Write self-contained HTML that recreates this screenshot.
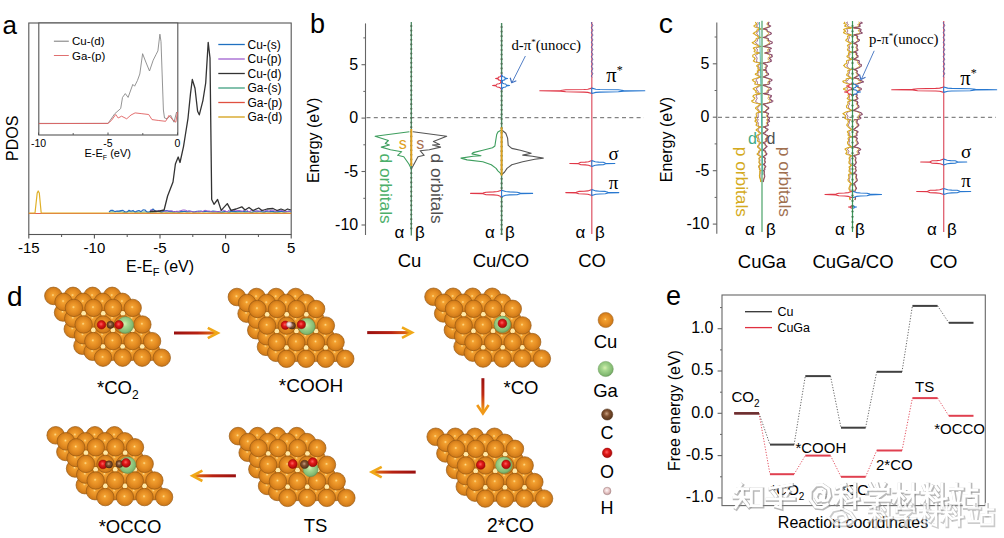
<!DOCTYPE html>
<html><head><meta charset="utf-8"><style>
html,body{margin:0;padding:0;background:#fff;}
svg{display:block;}
</style></head><body>
<svg width="1004" height="538" viewBox="0 0 1004 538">
<defs>
<radialGradient id="cu" cx="0.5" cy="0.5" r="0.55" fx="0.47" fy="0.45">
<stop offset="0" stop-color="#FFE090"/><stop offset="0.16" stop-color="#F2A030"/><stop offset="0.55" stop-color="#E48C22"/><stop offset="0.88" stop-color="#CC7818"/><stop offset="1" stop-color="#A86212"/></radialGradient>
<radialGradient id="ga" cx="0.45" cy="0.42" r="0.62">
<stop offset="0" stop-color="#D8F0B0"/><stop offset="0.3" stop-color="#A8D890"/><stop offset="0.8" stop-color="#80B870"/><stop offset="1" stop-color="#608850"/></radialGradient>
<radialGradient id="ox" cx="0.45" cy="0.42" r="0.62">
<stop offset="0" stop-color="#FF6060"/><stop offset="0.4" stop-color="#E01818"/><stop offset="1" stop-color="#A00808"/></radialGradient>
<radialGradient id="cc" cx="0.45" cy="0.42" r="0.62">
<stop offset="0" stop-color="#C8A080"/><stop offset="0.4" stop-color="#805030"/><stop offset="1" stop-color="#503018"/></radialGradient>
<radialGradient id="hh" cx="0.45" cy="0.42" r="0.62">
<stop offset="0" stop-color="#FFF8F8"/><stop offset="0.5" stop-color="#E8C8C8"/><stop offset="1" stop-color="#B89090"/></radialGradient>
<linearGradient id="arR" x1="0" y1="0" x2="1" y2="0"><stop offset="0" stop-color="#9A1010"/><stop offset="0.55" stop-color="#B82212"/><stop offset="0.85" stop-color="#D85A12"/><stop offset="1" stop-color="#F0A018"/></linearGradient>
<linearGradient id="arL" x1="1" y1="0" x2="0" y2="0"><stop offset="0" stop-color="#9A1010"/><stop offset="0.55" stop-color="#B82212"/><stop offset="0.85" stop-color="#D85A12"/><stop offset="1" stop-color="#F0A018"/></linearGradient>
<linearGradient id="arD" x1="0" y1="0" x2="0" y2="1"><stop offset="0" stop-color="#9A1010"/><stop offset="0.5" stop-color="#C02A12"/><stop offset="0.78" stop-color="#E06A14"/><stop offset="1" stop-color="#F0A818"/></linearGradient>
</defs>
<rect width="1004" height="538" fill="#fff"/>
<text x="2.5" y="34.2" font-family="Liberation Sans" font-size="26" fill="#000" text-anchor="start" >a</text>
<text x="310.0" y="33.0" font-family="Liberation Sans" font-size="27" fill="#000" text-anchor="start" >b</text>
<text x="658.8" y="33.0" font-family="Liberation Sans" font-size="28.5" fill="#000" text-anchor="start" >c</text>
<text x="7.0" y="305.5" font-family="Liberation Sans" font-size="28" fill="#000" text-anchor="start" >d</text>
<text x="666.0" y="304.8" font-family="Liberation Sans" font-size="27" fill="#000" text-anchor="start" >e</text>
<rect x="28.8" y="23" width="262.4" height="211.5" fill="none" stroke="#555" stroke-width="1.1"/>
<line x1="28.8" y1="234.5" x2="28.8" y2="238.5" stroke="#555" stroke-width="1.1" />
<text x="28.8" y="253.0" font-family="Liberation Sans" font-size="15" fill="#000" text-anchor="middle" >-15</text>
<line x1="94.4" y1="234.5" x2="94.4" y2="238.5" stroke="#555" stroke-width="1.1" />
<text x="94.4" y="253.0" font-family="Liberation Sans" font-size="15" fill="#000" text-anchor="middle" >-10</text>
<line x1="160.0" y1="234.5" x2="160.0" y2="238.5" stroke="#555" stroke-width="1.1" />
<text x="160.0" y="253.0" font-family="Liberation Sans" font-size="15" fill="#000" text-anchor="middle" >-5</text>
<line x1="225.6" y1="234.5" x2="225.6" y2="238.5" stroke="#555" stroke-width="1.1" />
<text x="225.6" y="253.0" font-family="Liberation Sans" font-size="15" fill="#000" text-anchor="middle" >0</text>
<line x1="291.2" y1="234.5" x2="291.2" y2="238.5" stroke="#555" stroke-width="1.1" />
<text x="291.2" y="253.0" font-family="Liberation Sans" font-size="15" fill="#000" text-anchor="middle" >5</text>
<line x1="61.6" y1="234.5" x2="61.6" y2="237.0" stroke="#555" stroke-width="1" />
<line x1="127.2" y1="234.5" x2="127.2" y2="237.0" stroke="#555" stroke-width="1" />
<line x1="192.8" y1="234.5" x2="192.8" y2="237.0" stroke="#555" stroke-width="1" />
<line x1="258.4" y1="234.5" x2="258.4" y2="237.0" stroke="#555" stroke-width="1" />
<text x="126.0" y="272.0" font-family="Liberation Sans" font-size="16" fill="#000" text-anchor="start" >E-E<tspan font-size="11" dy="4">F</tspan><tspan dy="-4"> (eV)</tspan></text>
<text x="18.0" y="161.0" font-family="Liberation Sans" font-size="16" fill="#000" text-anchor="start" transform="rotate(-90 18 161)">PDOS</text>
<polyline points="28.8,213.5 291.2,213.5" fill="none" stroke="#E05040" stroke-width="0.9" stroke-linejoin="round" />
<polyline points="109.0,211.9 111.5,211.8 114.0,211.8 116.5,211.6 119.0,211.8 121.5,211.7 124.0,212.4 126.5,212.0 129.0,211.6 131.5,211.9 134.0,211.7 136.5,212.3 139.0,212.0 141.5,212.2 144.0,212.0 146.5,211.9 149.0,212.4 151.5,212.2 154.0,212.2 156.5,211.7 159.0,211.8 161.5,212.3 164.0,211.8 166.5,212.3 169.0,211.9 171.5,212.3 174.0,212.4 176.5,211.7 179.0,212.2 181.5,212.2 184.0,211.6 186.5,211.7 189.0,212.2 191.5,211.6 194.0,212.0 196.5,211.9 199.0,212.2 201.5,211.6 204.0,211.8 206.5,211.6 209.0,211.7 211.5,212.2 214.0,212.1 216.5,212.3 219.0,212.3 221.5,212.3 224.0,212.2 226.5,211.9 229.0,212.4 231.5,211.9 234.0,212.1 236.5,212.2 239.0,211.7 241.5,212.0 244.0,212.1 246.5,212.0 249.0,211.8 251.5,212.4 254.0,211.6 256.5,212.4 259.0,211.8 261.5,211.7 264.0,212.4 266.5,211.8 269.0,212.1 271.5,211.9 274.0,212.4 276.5,212.4 279.0,212.3 281.5,211.6 284.0,212.2 286.5,211.8 289.0,211.7" fill="none" stroke="#40A080" stroke-width="0.9" stroke-linejoin="round" />
<polyline points="109.0,211.9 111.0,210.2 113.0,210.4 115.0,211.6 117.0,211.0 119.0,211.1 121.0,210.6 123.0,210.3 125.0,212.0 127.0,212.1 129.0,210.2 131.0,211.2 133.0,210.4 135.0,212.2 137.0,211.1 139.0,210.5 141.0,211.7 143.0,209.9 145.0,210.0 147.0,212.1 149.0,212.1 151.0,210.4 153.0,209.0 155.0,210.9 157.0,211.5 159.0,210.8 161.0,212.1 163.0,211.5 165.0,210.7 167.0,210.5 169.0,211.4 171.0,211.4 173.0,211.5 175.0,211.6 177.0,211.9 179.0,212.2 181.0,211.2 183.0,211.5 185.0,211.4 187.0,212.0 189.0,211.0 191.0,211.2 193.0,212.1 195.0,211.8 197.0,211.3 199.0,211.3 201.0,211.1 203.0,211.7 205.0,211.2 207.0,211.4 209.0,211.8 211.0,211.5 213.0,211.1 215.0,211.2 217.0,211.6 219.0,211.5 221.0,212.2 223.0,211.9 225.0,211.2 227.0,211.7 229.0,212.0 231.0,211.5 233.0,211.4 235.0,211.4 237.0,211.8 239.0,211.7 241.0,211.6 243.0,211.3 245.0,211.6 247.0,211.7 249.0,211.6 251.0,212.2 253.0,212.1 255.0,211.4 257.0,211.0 259.0,211.5 261.0,211.7 263.0,212.0 265.0,211.6 267.0,211.0 269.0,211.3 271.0,211.6 273.0,211.2 275.0,211.9 277.0,211.6 279.0,211.1 281.0,211.5 283.0,211.6 285.0,211.9 287.0,211.5 289.0,211.1 291.0,212.2" fill="none" stroke="#2A6BC0" stroke-width="1.1" stroke-linejoin="round" />
<polyline points="150.0,210.1 152.2,210.1 154.4,212.1 156.6,212.0 158.8,210.4 161.0,210.6 163.2,210.7 165.4,211.5 167.6,210.9 169.8,210.9 172.0,210.9 174.2,211.9 176.4,211.3 178.6,211.3 180.8,210.6 183.0,210.0 185.2,210.1 187.4,211.0 189.6,211.2 191.8,211.6 194.0,212.1 196.2,212.1 198.4,211.2 200.6,211.5 202.8,211.4 205.0,210.2 207.2,211.0 209.4,211.0 211.6,211.7 213.8,212.1 216.0,211.5 218.2,211.9 220.4,211.1 222.6,210.0 224.8,210.7 227.0,211.8 229.2,210.2 231.4,210.4 233.6,210.6 235.8,210.2 238.0,210.5 240.2,210.5 242.4,211.4 244.6,210.0 246.8,210.1 249.0,211.8 251.2,210.5 253.4,210.6 255.6,211.2 257.8,211.0 260.0,211.1 262.2,210.2 264.4,211.1 266.6,210.4 268.8,211.4 271.0,210.3 273.2,210.2 275.4,211.2 277.6,211.0 279.8,210.2 282.0,210.6 284.2,211.1 286.4,211.7 288.6,211.5 290.8,210.7" fill="none" stroke="#A060D0" stroke-width="1.0" stroke-linejoin="round" />
<polyline points="28.8,213.0 35.0,213.0 37.2,193.0 38.2,191.0 39.3,193.0 41.2,213.0 291.2,213.0" fill="none" stroke="#E0B028" stroke-width="1.2" stroke-linejoin="round" />
<polyline points="150.0,211.5 160.0,211.0 164.1,210.0 167.6,196.0 173.0,182.0 175.4,164.0 178.2,157.0 180.0,162.5 183.5,146.6 185.2,136.0 188.0,118.3 190.5,93.6 192.3,79.5 195.0,88.3 197.6,111.2 199.3,114.8 202.9,100.6 205.7,83.0 208.2,42.4 210.0,58.0 211.7,199.5 214.0,204.3 217.6,199.5 221.2,210.4 227.3,203.6 231.0,210.4 236.0,209.0 241.8,206.8 245.0,210.0 249.0,207.5 253.0,210.5 258.7,208.0 262.0,210.5 267.0,209.0 273.0,208.5 277.0,210.5 281.0,209.0 285.0,210.5 287.6,209.0 291.0,210.0" fill="none" stroke="#333" stroke-width="1.3" stroke-linejoin="round" />
<line x1="218.3" y1="44.5" x2="244.8" y2="44.5" stroke="#2070C0" stroke-width="1.3" />
<text x="247.5" y="48.8" font-family="Liberation Sans" font-size="12" fill="#000" text-anchor="start" >Cu-(s)</text>
<line x1="218.3" y1="59.0" x2="244.8" y2="59.0" stroke="#A060D0" stroke-width="1.3" />
<text x="247.5" y="63.3" font-family="Liberation Sans" font-size="12" fill="#000" text-anchor="start" >Cu-(p)</text>
<line x1="218.3" y1="73.5" x2="244.8" y2="73.5" stroke="#333" stroke-width="1.3" />
<text x="247.5" y="77.8" font-family="Liberation Sans" font-size="12" fill="#000" text-anchor="start" >Cu-(d)</text>
<line x1="218.3" y1="88.0" x2="244.8" y2="88.0" stroke="#40A080" stroke-width="1.3" />
<text x="247.5" y="92.3" font-family="Liberation Sans" font-size="12" fill="#000" text-anchor="start" >Ga-(s)</text>
<line x1="218.3" y1="102.5" x2="244.8" y2="102.5" stroke="#E05040" stroke-width="1.3" />
<text x="247.5" y="106.8" font-family="Liberation Sans" font-size="12" fill="#000" text-anchor="start" >Ga-(p)</text>
<line x1="218.3" y1="117.0" x2="244.8" y2="117.0" stroke="#D4A017" stroke-width="1.3" />
<text x="247.5" y="121.3" font-family="Liberation Sans" font-size="12" fill="#000" text-anchor="start" >Ga-(d)</text>
<rect x="38.8" y="23" width="139.0" height="112" fill="#fff" stroke="#555" stroke-width="1.1"/>
<line x1="38.5" y1="135.0" x2="38.5" y2="132.5" stroke="#555" stroke-width="1" />
<text x="38.5" y="147.0" font-family="Liberation Sans" font-size="10.5" fill="#000" text-anchor="middle" >-10</text>
<line x1="108.0" y1="135.0" x2="108.0" y2="132.5" stroke="#555" stroke-width="1" />
<text x="108.0" y="147.0" font-family="Liberation Sans" font-size="10.5" fill="#000" text-anchor="middle" >-5</text>
<line x1="177.5" y1="135.0" x2="177.5" y2="132.5" stroke="#555" stroke-width="1" />
<text x="177.5" y="147.0" font-family="Liberation Sans" font-size="10.5" fill="#000" text-anchor="middle" >0</text>
<line x1="73.2" y1="135.0" x2="73.2" y2="133.0" stroke="#555" stroke-width="0.9" />
<line x1="142.8" y1="135.0" x2="142.8" y2="133.0" stroke="#555" stroke-width="0.9" />
<text x="84.5" y="156.5" font-family="Liberation Sans" font-size="11" fill="#000" text-anchor="start" >E-E<tspan font-size="7" dy="3">F</tspan><tspan dy="-3"> (eV)</tspan></text>
<line x1="53.9" y1="41.2" x2="68.8" y2="41.2" stroke="#777" stroke-width="1" />
<line x1="53.9" y1="55.5" x2="68.8" y2="55.5" stroke="#E07070" stroke-width="1" />
<text x="72.0" y="45.3" font-family="Liberation Sans" font-size="11.5" fill="#000" text-anchor="start" >Cu-(d)</text>
<text x="72.0" y="59.6" font-family="Liberation Sans" font-size="11.5" fill="#000" text-anchor="start" >Ga-(p)</text>
<polyline points="38.8,123.4 108.0,123.4 114.8,113.7 120.7,108.5 122.5,97.4 125.3,93.6 128.1,97.4 132.8,84.4 134.6,86.2 137.4,80.6 139.8,74.0 142.6,53.7 145.8,62.0 149.5,71.0 153.2,60.2 156.0,54.6 157.9,50.9 159.9,34.2 161.0,41.6 163.4,110.0 164.5,118.0 167.3,118.8 170.7,115.4 174.0,122.2 176.6,112.0 177.5,113.0" fill="none" stroke="#888" stroke-width="0.9" stroke-linejoin="round" />
<polyline points="38.8,123.6 108.0,123.4 111.4,120.5 115.7,114.5 118.2,118.0 121.6,116.2 126.7,118.8 131.0,115.0 135.1,112.9 141.9,113.7 148.7,114.5 152.0,119.6 158.8,120.5 165.6,121.3 169.0,115.4 172.4,119.6 175.8,122.2 177.5,112.0" fill="none" stroke="#E06060" stroke-width="0.9" stroke-linejoin="round" />
<line x1="365.5" y1="23.4" x2="365.5" y2="235.0" stroke="#666" stroke-width="1.1" />
<line x1="361.5" y1="64.7" x2="365.5" y2="64.7" stroke="#666" stroke-width="1.1" />
<text x="358.2" y="69.9" font-family="Liberation Sans" font-size="16" fill="#000" text-anchor="end" >5</text>
<line x1="361.5" y1="118.1" x2="365.5" y2="118.1" stroke="#666" stroke-width="1.1" />
<text x="358.2" y="123.3" font-family="Liberation Sans" font-size="16" fill="#000" text-anchor="end" >0</text>
<line x1="361.5" y1="171.5" x2="365.5" y2="171.5" stroke="#666" stroke-width="1.1" />
<text x="358.2" y="176.7" font-family="Liberation Sans" font-size="16" fill="#000" text-anchor="end" >-5</text>
<line x1="361.5" y1="225.0" x2="365.5" y2="225.0" stroke="#666" stroke-width="1.1" />
<text x="358.2" y="230.2" font-family="Liberation Sans" font-size="16" fill="#000" text-anchor="end" >-10</text>
<line x1="363.3" y1="37.9" x2="365.5" y2="37.9" stroke="#666" stroke-width="1" />
<line x1="363.3" y1="91.4" x2="365.5" y2="91.4" stroke="#666" stroke-width="1" />
<line x1="363.3" y1="144.8" x2="365.5" y2="144.8" stroke="#666" stroke-width="1" />
<line x1="363.3" y1="198.3" x2="365.5" y2="198.3" stroke="#666" stroke-width="1" />
<text x="319.5" y="183.1" font-family="Liberation Sans" font-size="16" transform="rotate(-90 319.5 183.1)">Energy (eV)</text>
<line x1="716.8" y1="22.5" x2="716.8" y2="233.7" stroke="#666" stroke-width="1.1" />
<line x1="712.8" y1="63.8" x2="716.8" y2="63.8" stroke="#666" stroke-width="1.1" />
<text x="709.5" y="69.0" font-family="Liberation Sans" font-size="16" fill="#000" text-anchor="end" >5</text>
<line x1="712.8" y1="117.2" x2="716.8" y2="117.2" stroke="#666" stroke-width="1.1" />
<text x="709.5" y="122.4" font-family="Liberation Sans" font-size="16" fill="#000" text-anchor="end" >0</text>
<line x1="712.8" y1="170.7" x2="716.8" y2="170.7" stroke="#666" stroke-width="1.1" />
<text x="709.5" y="175.8" font-family="Liberation Sans" font-size="16" fill="#000" text-anchor="end" >-5</text>
<line x1="712.8" y1="224.1" x2="716.8" y2="224.1" stroke="#666" stroke-width="1.1" />
<text x="709.5" y="229.3" font-family="Liberation Sans" font-size="16" fill="#000" text-anchor="end" >-10</text>
<line x1="714.6" y1="37.0" x2="716.8" y2="37.0" stroke="#666" stroke-width="1" />
<line x1="714.6" y1="90.5" x2="716.8" y2="90.5" stroke="#666" stroke-width="1" />
<line x1="714.6" y1="143.9" x2="716.8" y2="143.9" stroke="#666" stroke-width="1" />
<line x1="714.6" y1="197.4" x2="716.8" y2="197.4" stroke="#666" stroke-width="1" />
<text x="672" y="182.2" font-family="Liberation Sans" font-size="16" transform="rotate(-90 672 182.2)">Energy (eV)</text>
<line x1="366.5" y1="117.7" x2="644" y2="117.7" stroke="#666" stroke-width="1" stroke-dasharray="4,3.3"/>
<line x1="718" y1="117.3" x2="996" y2="117.3" stroke="#666" stroke-width="1" stroke-dasharray="4,3.3"/>
<polyline points="409.4,131.8 375.1,136.2 388.4,140.5 385.3,143.5 389.4,145.0 381.3,147.1 390.5,149.7 401.7,151.7 397.6,155.3 403.8,156.8 408.9,164.0 410.9,168.0" fill="none" stroke="#3E9E5E" stroke-width="1.1" stroke-linejoin="round" />
<polyline points="413.0,131.8 446.7,136.2 433.4,141.5 439.6,144.5 432.4,145.0 440.6,147.1 429.3,149.7 420.1,150.7 424.2,155.3 418.0,156.8 413.0,166.0 411.8,168.0" fill="none" stroke="#555" stroke-width="1.1" stroke-linejoin="round" />
<line x1="411.3" y1="22.0" x2="411.3" y2="235.5" stroke="#4A8A62" stroke-width="1.3" />
<circle cx="411.3" cy="26.0" r="1.1" fill="#4F6F55"/>
<circle cx="411.3" cy="30.6" r="1.1" fill="#4F6F55"/>
<circle cx="411.3" cy="35.2" r="1.1" fill="#4F6F55"/>
<circle cx="411.3" cy="39.8" r="1.1" fill="#4F6F55"/>
<circle cx="411.3" cy="44.4" r="1.1" fill="#4F6F55"/>
<circle cx="411.3" cy="49.0" r="1.1" fill="#4F6F55"/>
<circle cx="411.3" cy="53.6" r="1.1" fill="#4F6F55"/>
<circle cx="411.3" cy="58.2" r="1.1" fill="#4F6F55"/>
<circle cx="411.3" cy="62.8" r="1.1" fill="#4F6F55"/>
<circle cx="411.3" cy="67.4" r="1.1" fill="#4F6F55"/>
<circle cx="411.3" cy="72.0" r="1.1" fill="#4F6F55"/>
<circle cx="411.3" cy="76.6" r="1.1" fill="#4F6F55"/>
<circle cx="411.3" cy="81.2" r="1.1" fill="#4F6F55"/>
<circle cx="411.3" cy="85.8" r="1.1" fill="#4F6F55"/>
<circle cx="411.3" cy="90.4" r="1.1" fill="#4F6F55"/>
<circle cx="411.3" cy="95.0" r="1.1" fill="#4F6F55"/>
<circle cx="411.3" cy="99.6" r="1.1" fill="#4F6F55"/>
<circle cx="411.3" cy="104.2" r="1.1" fill="#4F6F55"/>
<circle cx="411.3" cy="108.8" r="1.1" fill="#4F6F55"/>
<circle cx="411.3" cy="113.4" r="1.1" fill="#4F6F55"/>
<circle cx="411.3" cy="118.0" r="1.1" fill="#4F6F55"/>
<circle cx="411.3" cy="122.6" r="1.1" fill="#4F6F55"/>
<circle cx="411.3" cy="127.2" r="1.1" fill="#4F6F55"/>
<circle cx="411.3" cy="131.8" r="1.1" fill="#4F6F55"/>
<circle cx="411.3" cy="136.4" r="1.1" fill="#4F6F55"/>
<circle cx="411.3" cy="141.0" r="1.1" fill="#4F6F55"/>
<circle cx="411.3" cy="145.6" r="1.1" fill="#4F6F55"/>
<circle cx="411.3" cy="150.2" r="1.1" fill="#4F6F55"/>
<circle cx="411.3" cy="154.8" r="1.1" fill="#4F6F55"/>
<circle cx="411.3" cy="159.4" r="1.1" fill="#4F6F55"/>
<circle cx="411.3" cy="164.0" r="1.1" fill="#4F6F55"/>
<circle cx="411.3" cy="168.6" r="1.1" fill="#4F6F55"/>
<circle cx="411.3" cy="173.2" r="1.1" fill="#4F6F55"/>
<circle cx="411.3" cy="177.8" r="1.1" fill="#4F6F55"/>
<circle cx="411.3" cy="182.4" r="1.1" fill="#4F6F55"/>
<circle cx="411.3" cy="187.0" r="1.1" fill="#4F6F55"/>
<circle cx="411.3" cy="191.6" r="1.1" fill="#4F6F55"/>
<circle cx="411.3" cy="196.2" r="1.1" fill="#4F6F55"/>
<circle cx="411.3" cy="200.8" r="1.1" fill="#4F6F55"/>
<circle cx="411.3" cy="205.4" r="1.1" fill="#4F6F55"/>
<circle cx="411.3" cy="210.0" r="1.1" fill="#4F6F55"/>
<circle cx="411.3" cy="214.6" r="1.1" fill="#4F6F55"/>
<circle cx="411.3" cy="219.2" r="1.1" fill="#4F6F55"/>
<circle cx="411.3" cy="223.8" r="1.1" fill="#4F6F55"/>
<circle cx="411.3" cy="228.4" r="1.1" fill="#4F6F55"/>
<line x1="411.3" y1="129.0" x2="411.3" y2="166.0" stroke="#E0A020" stroke-width="1.9" />
<text x="402.7" y="148.5" font-family="Liberation Sans" font-size="16" fill="#E0A020" text-anchor="middle" >s</text>
<text x="420.3" y="148.5" font-family="Liberation Sans" font-size="16" fill="#A87050" text-anchor="middle" >s</text>
<text x="380" y="153.5" font-family="Liberation Sans" font-size="17.3" fill="#4CAF6A" transform="rotate(90 380 153.5)">d orbitals</text>
<text x="431.3" y="153.5" font-family="Liberation Sans" font-size="17.3" fill="#505050" transform="rotate(90 431.3 153.5)">d orbitals</text>
<text x="399.5" y="238.0" font-family="Liberation Sans" font-size="17" fill="#000" text-anchor="middle" >α</text>
<text x="420.0" y="238.0" font-family="Liberation Sans" font-size="17" fill="#000" text-anchor="middle" >β</text>
<text x="409.5" y="267.0" font-family="Liberation Sans" font-size="18.5" fill="#000" text-anchor="middle" >Cu</text>
<polyline points="501.0,130.3 497.9,132.1 496.7,134.5 495.5,141.8 494.9,146.0 492.5,147.8 482.8,150.2 473.1,152.6 471.9,153.9 481.0,155.7 473.1,156.3 461.0,158.1 467.1,159.9 482.8,161.7 491.3,164.7 496.1,168.4 497.9,170.8 500.3,173.2 501.5,174.5" fill="none" stroke="#3E9E5E" stroke-width="1.1" stroke-linejoin="round" />
<polyline points="502.1,130.3 505.8,133.3 507.6,138.1 508.2,145.4 511.8,148.4 520.3,150.2 531.2,153.2 522.7,155.1 532.4,156.3 543.3,158.1 534.8,159.3 522.7,161.7 511.8,164.7 507.0,168.4 504.6,172.0 502.1,174.4" fill="none" stroke="#555" stroke-width="1.1" stroke-linejoin="round" />
<line x1="501.6" y1="23.0" x2="501.6" y2="235.0" stroke="#4A8A62" stroke-width="1.4" />
<circle cx="501.6" cy="27.0" r="1.1" fill="#4F6F55"/>
<circle cx="501.6" cy="31.6" r="1.1" fill="#4F6F55"/>
<circle cx="501.6" cy="36.2" r="1.1" fill="#4F6F55"/>
<circle cx="501.6" cy="40.8" r="1.1" fill="#4F6F55"/>
<circle cx="501.6" cy="45.4" r="1.1" fill="#4F6F55"/>
<circle cx="501.6" cy="50.0" r="1.1" fill="#4F6F55"/>
<circle cx="501.6" cy="54.6" r="1.1" fill="#4F6F55"/>
<circle cx="501.6" cy="59.2" r="1.1" fill="#4F6F55"/>
<circle cx="501.6" cy="63.8" r="1.1" fill="#4F6F55"/>
<circle cx="501.6" cy="68.4" r="1.1" fill="#4F6F55"/>
<circle cx="501.6" cy="73.0" r="1.1" fill="#4F6F55"/>
<circle cx="501.6" cy="77.6" r="1.1" fill="#4F6F55"/>
<circle cx="501.6" cy="82.2" r="1.1" fill="#4F6F55"/>
<circle cx="501.6" cy="86.8" r="1.1" fill="#4F6F55"/>
<circle cx="501.6" cy="91.4" r="1.1" fill="#4F6F55"/>
<circle cx="501.6" cy="96.0" r="1.1" fill="#4F6F55"/>
<circle cx="501.6" cy="100.6" r="1.1" fill="#4F6F55"/>
<circle cx="501.6" cy="105.2" r="1.1" fill="#4F6F55"/>
<circle cx="501.6" cy="109.8" r="1.1" fill="#4F6F55"/>
<circle cx="501.6" cy="114.4" r="1.1" fill="#4F6F55"/>
<circle cx="501.6" cy="119.0" r="1.1" fill="#4F6F55"/>
<circle cx="501.6" cy="123.6" r="1.1" fill="#4F6F55"/>
<circle cx="501.6" cy="128.2" r="1.1" fill="#4F6F55"/>
<circle cx="501.6" cy="132.8" r="1.1" fill="#4F6F55"/>
<circle cx="501.6" cy="137.4" r="1.1" fill="#4F6F55"/>
<circle cx="501.6" cy="142.0" r="1.1" fill="#4F6F55"/>
<circle cx="501.6" cy="146.6" r="1.1" fill="#4F6F55"/>
<circle cx="501.6" cy="151.2" r="1.1" fill="#4F6F55"/>
<circle cx="501.6" cy="155.8" r="1.1" fill="#4F6F55"/>
<circle cx="501.6" cy="160.4" r="1.1" fill="#4F6F55"/>
<circle cx="501.6" cy="165.0" r="1.1" fill="#4F6F55"/>
<circle cx="501.6" cy="169.6" r="1.1" fill="#4F6F55"/>
<circle cx="501.6" cy="174.2" r="1.1" fill="#4F6F55"/>
<circle cx="501.6" cy="178.8" r="1.1" fill="#4F6F55"/>
<circle cx="501.6" cy="183.4" r="1.1" fill="#4F6F55"/>
<circle cx="501.6" cy="188.0" r="1.1" fill="#4F6F55"/>
<circle cx="501.6" cy="192.6" r="1.1" fill="#4F6F55"/>
<circle cx="501.6" cy="197.2" r="1.1" fill="#4F6F55"/>
<circle cx="501.6" cy="201.8" r="1.1" fill="#4F6F55"/>
<circle cx="501.6" cy="206.4" r="1.1" fill="#4F6F55"/>
<circle cx="501.6" cy="211.0" r="1.1" fill="#4F6F55"/>
<circle cx="501.6" cy="215.6" r="1.1" fill="#4F6F55"/>
<circle cx="501.6" cy="220.2" r="1.1" fill="#4F6F55"/>
<circle cx="501.6" cy="224.8" r="1.1" fill="#4F6F55"/>
<circle cx="501.6" cy="229.4" r="1.1" fill="#4F6F55"/>
<circle cx="501.6" cy="234.0" r="1.1" fill="#4F6F55"/>
<line x1="501.6" y1="127.3" x2="501.6" y2="175.6" stroke="#E0A020" stroke-width="1.9" />
<polygon points="501.6,190.2 497.6,191.5 493.6,191.9 486.1,192.2 483.0,193.0 470.6,193.4 483.0,193.8 486.1,194.7 493.6,194.9 497.6,195.3 501.6,196.7" fill="#fff" stroke="#E03848" stroke-width="1.1" stroke-linejoin="round"/>
<polygon points="501.6,190.2 505.6,191.5 509.6,191.9 517.1,192.2 520.2,193.0 532.6,193.4 520.2,193.8 517.1,194.7 509.6,194.9 505.6,195.3 501.6,196.7" fill="#fff" stroke="#2878D0" stroke-width="1.1" stroke-linejoin="round"/>
<polygon points="501.6,81.6 500.2,83.2 498.9,83.7 497.1,84.0 496.2,85.0 492.6,85.5 496.2,86.0 497.1,87.0 498.9,87.3 500.2,87.8 501.6,89.4" fill="#fff" stroke="#E03848" stroke-width="1.1" stroke-linejoin="round"/>
<polygon points="501.6,81.6 502.8,83.2 504.0,83.7 505.6,84.0 506.4,85.0 509.6,85.5 506.4,86.0 505.6,87.0 504.0,87.3 502.8,87.8 501.6,89.4" fill="#fff" stroke="#2878D0" stroke-width="1.1" stroke-linejoin="round"/>
<polygon points="501.6,74.9 500.7,76.4 499.8,76.8 498.6,77.1 498.0,78.1 495.6,78.5 498.0,78.9 498.6,79.9 499.8,80.2 500.7,80.6 501.6,82.1" fill="#fff" stroke="#E03848" stroke-width="1.1" stroke-linejoin="round"/>
<polygon points="501.6,74.9 502.5,76.4 503.4,76.8 504.6,77.1 505.2,78.1 507.6,78.5 505.2,78.9 504.6,79.9 503.4,80.2 502.5,80.6 501.6,82.1" fill="#fff" stroke="#2878D0" stroke-width="1.1" stroke-linejoin="round"/>
<text x="490.0" y="238.0" font-family="Liberation Sans" font-size="17" fill="#000" text-anchor="middle" >α</text>
<text x="510.0" y="238.0" font-family="Liberation Sans" font-size="17" fill="#000" text-anchor="middle" >β</text>
<text x="501.0" y="267.0" font-family="Liberation Sans" font-size="18.5" fill="#000" text-anchor="middle" >Cu/CO</text>
<text x="511.4" y="49.8" font-family="Liberation Serif" font-size="14.8">d-π<tspan font-size="9" dy="-5">*</tspan><tspan dy="5">(unocc)</tspan></text>
<line x1="525.4" y1="56.0" x2="512.0" y2="82.5" stroke="#4070C0" stroke-width="0.9" />
<polyline points="510.2,77.8 511.7,82.7 516.3,80.8" fill="none" stroke="#4070C0" stroke-width="1.2" stroke-linejoin="round" />
<line x1="591.8" y1="22.0" x2="591.8" y2="234.0" stroke="#E06070" stroke-width="1.3" />
<polyline points="591.9,22.0 591.4,22.7 591.5,23.4 592.0,24.1 592.6,24.8 592.8,25.5 592.4,26.2 591.8,26.9 591.4,27.6 591.5,28.3 592.1,29.0 592.7,29.7 592.8,30.4 592.4,31.1 591.8,31.8 591.4,32.5 591.6,33.2 592.2,33.9 592.7,34.6 592.8,35.3 592.3,36.0 591.7,36.7 591.4,37.4 591.6,38.1 592.2,38.8 592.7,39.5 592.7,40.2 592.3,40.9 591.7,41.6 591.4,42.3 591.7,43.0 592.3,43.7 592.7,44.4 592.7,45.1 592.2,45.8 591.6,46.5 591.4,47.2 591.7,47.9 592.3,48.6 592.8,49.3 592.7,50.0 592.1,50.7 591.6,51.4 591.4,52.1 591.8,52.8 592.4,53.5 592.8,54.2 592.6,54.9 592.1,55.6 591.5,56.3 591.4,57.0 591.8,57.7 592.4,58.4 592.8,59.1 592.6,59.8 592.0,60.5 591.5,61.2 591.4,61.9 591.9,62.6 592.5,63.3 592.8,64.0 592.6,64.7 592.0,65.4 591.5,66.1 591.5,66.8 592.0,67.5 592.5,68.2 592.8,68.9 592.5,69.6 591.9,70.3 591.4,71.0 591.5,71.7 592.0,72.4 592.6,73.1 592.8,73.8 592.5,74.5 591.8,75.2 591.4,75.9 591.5,76.6 592.1,77.3" fill="none" stroke="#5060B0" stroke-width="1.0" stroke-linejoin="round" />
<polygon points="591.8,88.1 587.8,89.2 583.8,89.5 565.8,89.8 560.6,90.5 539.8,90.8 560.6,91.1 565.8,91.8 583.8,92.1 587.8,92.4 591.8,93.5" fill="#fff" stroke="#E03848" stroke-width="1.1" stroke-linejoin="round"/>
<polygon points="591.8,88.1 595.8,89.2 599.8,89.5 618.3,89.8 623.6,90.5 644.8,90.8 623.6,91.1 618.3,91.8 599.8,92.1 595.8,92.4 591.8,93.5" fill="#fff" stroke="#2878D0" stroke-width="1.1" stroke-linejoin="round"/>
<polygon points="591.8,160.5 588.5,161.8 585.2,162.1 580.8,162.3 578.6,163.2 569.8,163.5 578.6,163.8 580.8,164.7 585.2,164.9 588.5,165.2 591.8,166.5" fill="#fff" stroke="#E03848" stroke-width="1.1" stroke-linejoin="round"/>
<polygon points="591.8,160.5 595.2,161.8 598.7,162.1 603.3,162.3 605.6,163.2 614.8,163.5 605.6,163.8 603.3,164.7 598.7,164.9 595.2,165.2 591.8,166.5" fill="#fff" stroke="#2878D0" stroke-width="1.1" stroke-linejoin="round"/>
<polygon points="591.8,189.6 587.9,190.9 584.0,191.2 578.8,191.4 576.2,192.3 565.8,192.6 576.2,192.9 578.8,193.8 584.0,194.0 587.9,194.3 591.8,195.6" fill="#fff" stroke="#E03848" stroke-width="1.1" stroke-linejoin="round"/>
<polygon points="591.8,189.6 595.8,190.9 599.8,191.2 605.3,191.4 608.0,192.3 618.8,192.6 608.0,192.9 605.3,193.8 599.8,194.0 595.8,194.3 591.8,195.6" fill="#fff" stroke="#2878D0" stroke-width="1.1" stroke-linejoin="round"/>
<text x="614.5" y="81.5" font-family="Liberation Serif" font-size="20.5" fill="#000" text-anchor="middle" >π<tspan font-size="12" dy="-8">*</tspan></text>
<text x="613.5" y="159.5" font-family="Liberation Serif" font-size="19" fill="#000" text-anchor="middle" >σ</text>
<text x="613.5" y="188.5" font-family="Liberation Serif" font-size="19" fill="#000" text-anchor="middle" >π</text>
<text x="580.5" y="238.0" font-family="Liberation Sans" font-size="17" fill="#000" text-anchor="middle" >α</text>
<text x="600.0" y="238.0" font-family="Liberation Sans" font-size="17" fill="#000" text-anchor="middle" >β</text>
<text x="592.0" y="267.0" font-family="Liberation Sans" font-size="18.5" fill="#000" text-anchor="middle" >CO</text>
<polyline points="757.6,22.0 757.9,22.5 757.7,23.0 758.2,23.5 757.9,24.0 758.1,24.5 757.3,25.0 756.9,25.5 756.6,26.0 756.6,26.5 757.6,27.0 758.2,27.5 758.9,28.0 760.0,28.5 760.8,29.0 759.2,29.5 758.7,30.0 758.4,30.5 758.3,31.0 758.0,31.5 757.8,32.0 756.8,32.5 756.6,33.0 756.7,33.5 756.7,34.0 757.2,34.5 758.0,35.0 758.3,35.5 758.8,36.0 759.0,36.5 759.8,37.0 760.8,37.5 758.9,38.0 758.0,38.5 757.6,39.0 757.6,39.5 757.9,40.0 757.5,40.5 757.5,41.0 756.9,41.5 756.4,42.0 755.5,42.5 755.8,43.0 756.2,43.5 757.1,44.0 757.7,44.5 758.2,45.0 759.0,45.5 759.6,46.0 760.8,46.5 758.8,47.0 757.3,47.5 756.2,48.0 756.3,48.5 756.9,49.0 757.4,49.5 757.7,50.0 757.0,50.5 756.9,51.0 756.8,51.5 757.4,52.0 758.8,52.5 759.8,53.0 758.3,53.5 757.6,54.0 756.8,54.5 756.4,55.0 755.5,55.5 755.5,56.0 756.0,56.5 756.6,57.0 756.8,57.5 757.2,58.0 757.1,58.5 756.9,59.0 756.8,59.5 756.8,60.0 756.7,60.5 756.1,61.0 756.4,61.5 757.5,62.0 758.5,62.5 760.8,63.0 760.8,63.5 759.9,64.0 759.3,64.5 759.1,65.0 758.7,65.5 758.3,66.0 758.6,66.5 759.0,67.0 759.2,67.5 759.3,68.0 759.1,68.5 759.2,69.0 759.5,69.5 760.8,70.0 759.4,70.5 758.8,71.0 758.7,71.5 758.9,72.0 758.8,72.5 758.4,73.0 757.9,73.5 757.7,74.0 757.9,74.5 758.1,75.0 758.7,75.5 759.3,76.0 760.0,76.5 760.8,77.0 759.6,77.5 758.4,78.0 757.7,78.5 756.8,79.0 756.1,79.5 756.1,80.0 756.2,80.5 756.2,81.0 757.3,81.5 757.3,82.0 757.5,82.5 757.5,83.0 757.3,83.5 757.3,84.0 758.1,84.5 760.8,85.0 760.8,85.5 759.4,86.0 758.9,86.5 758.2,87.0 757.2,87.5 756.6,88.0 756.6,88.5 756.1,89.0 756.7,89.5 757.4,90.0 757.6,90.5 758.2,91.0 758.2,91.5 758.0,92.0 757.8,92.5 758.3,93.0 760.8,93.5 759.9,94.0 757.8,94.5 757.1,95.0 756.2,95.5 756.6,96.0 756.1,96.5 756.8,97.0 756.8,97.5 756.9,98.0 757.1,98.5 756.9,99.0 756.6,99.5 756.0,100.0 755.9,100.5 755.9,101.0 755.7,101.5 756.2,102.0 757.1,102.5 757.7,103.0 758.7,103.5 760.8,104.0 760.8,104.5 760.0,105.0 759.4,105.5 759.1,106.0 759.0,106.5 758.3,107.0 757.7,107.5 757.6,108.0 757.7,108.5 758.1,109.0 758.6,109.5 759.0,110.0 759.0,110.5 759.3,111.0 759.4,111.5 760.8,112.0 759.1,112.5 758.2,113.0 758.1,113.5 757.8,114.0 758.1,114.5 758.1,115.0 758.2,115.5 758.4,116.0 758.3,116.5 757.9,117.0 757.9,117.5 757.7,118.0 757.2,118.5 757.8,119.0 758.0,119.5 758.5,120.0" fill="none" stroke="#8A4A6A" stroke-width="0.8" stroke-linejoin="round" />
<polyline points="767.0,22.0 767.5,22.5 767.2,23.0 767.1,23.5 766.6,24.0 766.9,24.5 767.8,25.0 768.3,25.5 768.4,26.0 768.5,26.5 767.6,27.0 766.9,27.5 765.5,28.0 764.2,28.5 763.2,29.0 765.5,29.5 766.1,30.0 766.1,30.5 766.6,31.0 766.9,31.5 767.2,32.0 768.2,32.5 768.9,33.0 768.7,33.5 768.8,34.0 767.7,34.5 767.1,35.0 766.2,35.5 765.8,36.0 765.7,36.5 764.5,37.0 763.2,37.5 765.9,38.0 766.9,38.5 767.2,39.0 767.3,39.5 767.2,40.0 767.1,40.5 768.0,41.0 768.8,41.5 769.1,42.0 769.3,42.5 770.1,43.0 769.2,43.5 768.0,44.0 767.3,44.5 766.4,45.0 766.0,45.5 764.9,46.0 763.2,46.5 765.9,47.0 768.2,47.5 768.6,48.0 769.0,48.5 768.1,49.0 767.9,49.5 767.3,50.0 768.0,50.5 768.2,51.0 768.7,51.5 768.0,52.0 765.7,52.5 764.5,53.0 766.3,53.5 767.5,54.0 768.7,54.5 769.0,55.0 769.9,55.5 769.7,56.0 770.0,56.5 769.5,57.0 768.2,57.5 767.8,58.0 768.1,58.5 768.1,59.0 768.0,59.5 769.0,60.0 769.5,60.5 769.0,61.0 768.6,61.5 767.8,62.0 766.5,62.5 763.2,63.0 763.2,63.5 764.3,64.0 765.0,64.5 765.6,65.0 766.3,65.5 766.3,66.0 765.9,66.5 765.6,67.0 765.1,67.5 765.2,68.0 765.6,68.5 765.5,69.0 765.0,69.5 763.2,70.0 765.4,70.5 765.9,71.0 765.8,71.5 765.6,72.0 765.7,72.5 766.2,73.0 766.8,73.5 767.6,74.0 767.1,74.5 766.5,75.0 765.9,75.5 765.2,76.0 764.2,76.5 763.2,77.0 765.0,77.5 766.2,78.0 767.5,78.5 768.7,79.0 769.9,79.5 770.1,80.0 769.6,80.5 769.2,81.0 768.0,81.5 767.5,82.0 767.8,82.5 767.8,83.0 768.2,83.5 767.6,84.0 766.9,84.5 763.2,85.0 763.2,85.5 765.1,86.0 765.8,86.5 767.0,87.0 767.7,87.5 768.5,88.0 768.9,88.5 768.7,89.0 768.4,89.5 768.1,90.0 767.0,90.5 766.8,91.0 766.9,91.5 767.1,92.0 767.0,92.5 766.7,93.0 763.2,93.5 764.4,94.0 766.9,94.5 768.2,95.0 768.7,95.5 769.0,96.0 768.8,96.5 769.0,97.0 768.1,97.5 768.2,98.0 767.8,98.5 768.4,99.0 768.9,99.5 769.2,100.0 770.3,100.5 770.2,101.0 770.0,101.5 768.9,102.0 768.4,102.5 767.2,103.0 766.0,103.5 763.2,104.0 763.2,104.5 764.5,105.0 765.2,105.5 765.2,106.0 765.8,106.5 766.6,107.0 767.0,107.5 767.1,108.0 767.6,108.5 766.9,109.0 766.5,109.5 765.9,110.0 765.6,110.5 765.5,111.0 764.9,111.5 763.2,112.0 765.6,112.5 766.4,113.0 766.8,113.5 767.1,114.0 767.1,114.5 766.5,115.0 766.4,115.5 766.5,116.0 766.5,116.5 766.8,117.0 767.1,117.5 767.9,118.0 767.5,118.5 767.7,119.0 767.1,119.5 766.1,120.0" fill="none" stroke="#D8A820" stroke-width="0.9" stroke-linejoin="round" />
<polyline points="755.8,22.0 755.5,22.5 755.8,23.0 756.5,23.5 756.7,24.0 756.1,24.5 755.5,25.0 754.2,25.5 753.9,26.0 754.2,26.5 755.1,27.0 756.3,27.5 757.9,28.0 759.5,28.5 760.8,29.0 758.2,29.5 756.9,30.0 757.2,30.5 756.6,31.0 756.6,31.5 755.3,32.0 754.7,32.5 753.9,33.0 753.2,33.5 754.5,34.0 755.2,34.5 755.5,35.0 756.7,35.5 757.6,36.0 757.6,36.5 759.0,37.0 760.8,37.5 757.9,38.0 756.2,38.5 756.1,39.0 756.1,39.5 755.8,40.0 755.9,40.5 754.7,41.0 754.5,41.5 753.5,42.0 752.2,42.5 752.8,43.0 753.4,43.5 754.3,44.0 755.6,44.5 756.7,45.0 757.8,45.5 758.6,46.0 760.8,46.5 757.0,47.0 754.5,47.5 753.3,48.0 753.5,48.5 754.3,49.0 754.9,49.5 755.2,50.0 755.2,50.5 754.3,51.0 754.1,51.5 755.0,52.0 757.5,52.5 759.2,53.0 757.2,53.5 755.1,54.0 754.1,54.5 753.0,55.0 752.8,55.5 752.5,56.0 752.9,56.5 753.1,57.0 754.5,57.5 754.6,58.0 755.2,58.5 754.6,59.0 754.8,59.5 754.1,60.0 753.6,60.5 753.3,61.0 754.4,61.5 755.1,62.0 757.1,62.5 760.8,63.0 760.8,63.5 759.4,64.0 758.5,64.5 757.4,65.0 757.1,65.5 756.6,66.0 757.4,66.5 757.6,67.0 758.3,67.5 758.4,68.0 757.9,68.5 757.8,69.0 758.6,69.5 760.8,70.0 758.3,70.5 757.2,71.0 757.5,71.5 757.7,72.0 757.7,72.5 757.2,73.0 756.1,73.5 755.3,74.0 755.3,74.5 756.5,75.0 757.7,75.5 758.5,76.0 759.4,76.5 760.8,77.0 758.5,77.5 756.9,78.0 755.7,78.5 754.0,79.0 753.0,79.5 752.3,80.0 753.2,80.5 753.2,81.0 754.3,81.5 755.7,82.0 755.6,82.5 754.8,83.0 755.1,83.5 754.7,84.0 756.5,84.5 760.8,85.0 760.8,85.5 758.4,86.0 757.3,86.5 756.5,87.0 755.3,87.5 754.3,88.0 753.2,88.5 753.2,89.0 754.4,89.5 754.5,90.0 755.8,90.5 756.4,91.0 756.2,91.5 755.6,92.0 755.9,92.5 756.6,93.0 760.8,93.5 759.2,94.0 755.7,94.5 754.2,95.0 753.6,95.5 753.1,96.0 752.9,96.5 753.5,97.0 754.2,97.5 754.8,98.0 754.9,98.5 754.2,99.0 753.8,99.5 753.7,100.0 752.2,100.5 751.7,101.0 752.0,101.5 752.6,102.0 753.8,102.5 755.6,103.0 757.1,103.5 760.8,104.0 760.8,104.5 759.3,105.0 758.6,105.5 758.2,106.0 757.7,106.5 756.6,107.0 755.9,107.5 755.6,108.0 755.5,108.5 756.5,109.0 756.9,109.5 757.5,110.0 758.0,110.5 758.3,111.0 758.6,111.5 760.8,112.0 758.1,112.5 756.6,113.0 756.3,113.5 756.2,114.0 756.2,114.5 756.2,115.0 756.6,115.5 756.8,116.0 756.4,116.5 756.4,117.0 756.1,117.5 755.3,118.0 755.2,118.5 755.7,119.0 755.9,119.5 757.0,120.0" fill="none" stroke="#D8A820" stroke-width="1.1" stroke-linejoin="round" />
<polyline points="768.4,22.0 769.0,22.5 768.7,23.0 768.4,23.5 767.8,24.0 768.2,24.5 768.8,25.0 769.7,25.5 770.7,26.0 769.8,26.5 769.3,27.0 767.8,27.5 766.4,28.0 764.6,28.5 763.2,29.0 766.3,29.5 767.2,30.0 767.0,30.5 767.4,31.0 767.8,31.5 769.3,32.0 770.3,32.5 771.1,33.0 771.4,33.5 770.9,34.0 770.1,34.5 768.8,35.0 767.4,35.5 767.1,36.0 766.4,36.5 765.0,37.0 763.2,37.5 766.6,38.0 768.2,38.5 768.5,39.0 768.4,39.5 768.3,40.0 768.4,40.5 769.9,41.0 770.9,41.5 772.2,42.0 772.3,42.5 772.1,43.0 771.6,43.5 769.7,44.0 769.0,44.5 767.6,45.0 766.6,45.5 765.3,46.0 763.2,46.5 767.1,47.0 769.3,47.5 771.0,48.0 771.4,48.5 770.3,49.0 769.0,49.5 769.0,50.0 769.3,50.5 770.2,51.0 770.3,51.5 769.3,52.0 766.4,52.5 765.0,53.0 767.7,53.5 769.0,54.0 770.8,54.5 772.2,55.0 771.6,55.5 771.8,56.0 772.3,56.5 771.6,57.0 770.6,57.5 769.5,58.0 769.5,58.5 770.1,59.0 770.6,59.5 771.1,60.0 770.8,60.5 771.6,61.0 770.5,61.5 769.6,62.0 767.1,62.5 763.2,63.0 763.2,63.5 764.9,64.0 765.7,64.5 766.7,65.0 767.1,65.5 767.5,66.0 767.1,66.5 766.5,67.0 765.9,67.5 766.0,68.0 766.1,68.5 766.2,69.0 765.6,69.5 763.2,70.0 766.1,70.5 766.7,71.0 766.7,71.5 766.4,72.0 766.9,72.5 767.5,73.0 768.3,73.5 768.4,74.0 768.6,74.5 767.8,75.0 766.6,75.5 765.5,76.0 764.7,76.5 763.2,77.0 765.4,77.5 767.2,78.0 768.7,78.5 770.6,79.0 771.1,79.5 772.1,80.0 771.6,80.5 771.2,81.0 769.2,81.5 768.9,82.0 769.0,82.5 769.8,83.0 769.7,83.5 769.3,84.0 768.0,84.5 763.2,85.0 763.2,85.5 765.6,86.0 766.6,86.5 768.1,87.0 769.8,87.5 770.8,88.0 770.9,88.5 771.4,89.0 770.9,89.5 769.3,90.0 768.8,90.5 768.1,91.0 768.0,91.5 768.2,92.0 768.2,92.5 767.6,93.0 763.2,93.5 764.7,94.0 768.3,94.5 769.6,95.0 771.4,95.5 771.5,96.0 770.6,96.5 771.1,97.0 769.8,97.5 769.8,98.0 769.8,98.5 769.9,99.0 770.5,99.5 771.4,100.0 771.6,100.5 773.0,101.0 771.7,101.5 772.0,102.0 770.0,102.5 768.6,103.0 766.9,103.5 763.2,104.0 763.2,104.5 764.7,105.0 765.5,105.5 766.0,106.0 766.6,106.5 767.7,107.0 768.7,107.5 768.4,108.0 768.8,108.5 767.9,109.0 767.6,109.5 766.5,110.0 766.4,110.5 766.1,111.0 765.5,111.5 763.2,112.0 766.0,112.5 767.4,113.0 768.6,113.5 768.2,114.0 768.3,114.5 767.9,115.0 767.5,115.5 767.7,116.0 767.4,116.5 768.2,117.0 768.8,117.5 769.5,118.0 769.3,118.5 769.4,119.0 768.3,119.5 767.4,120.0" fill="none" stroke="#8A4A6A" stroke-width="1.1" stroke-linejoin="round" />
<polyline points="758.4,120.0 757.7,120.5 757.5,121.0 757.5,121.5 757.8,122.0 758.1,122.5 758.5,123.0 758.4,123.5 758.5,124.0 758.2,124.5 758.0,125.0 758.3,125.5 758.5,126.0 759.6,126.5 760.8,127.0 759.5,127.5 759.3,128.0 759.1,128.5 758.4,129.0 758.0,129.5 758.1,130.0 758.7,130.5 759.0,131.0 759.3,131.5 759.6,132.0 759.9,132.5 760.8,133.0 760.8,133.5 760.0,134.0 759.5,134.5 758.9,135.0 758.6,135.5 758.3,136.0 758.1,136.5 758.0,137.0 758.5,137.5 758.9,138.0 758.8,138.5 759.0,139.0 759.1,139.5 759.0,140.0 759.0,140.5 759.1,141.0 759.2,141.5 759.7,142.0 760.8,142.5 760.8,143.0 759.9,143.5 759.6,144.0 759.6,144.5 759.6,145.0 759.1,145.5 758.9,146.0 758.6,146.5 758.9,147.0 759.1,147.5 759.6,148.0 759.8,148.5 760.0,149.0 760.8,149.5 760.8,150.0 760.8,150.5 759.6,151.0 759.5,151.5 759.5,152.0 759.4,152.5 759.2,153.0 758.8,153.5 758.6,154.0 758.9,154.5 759.3,155.0 759.7,155.5 760.0,156.0 760.8,156.5 760.8,157.0 760.2,157.5 759.8,158.0 759.6,158.5 759.7,159.0 759.8,159.5 760.0,160.0 760.0,160.5 759.9,161.0 759.7,161.5 759.6,162.0 759.7,162.5 759.8,163.0 760.0,163.5 760.3,164.0 760.8,164.5 760.2,165.0 759.9,165.5 759.6,166.0 759.5,166.5 759.6,167.0 759.6,167.5 759.8,168.0 760.0,168.5 760.0,169.0 759.9,169.5 760.1,170.0 760.8,170.5 760.3,171.0 760.1,171.5 760.1,172.0 760.2,172.5 760.2,173.0 760.2,173.5 760.1,174.0 760.0,174.5 760.0,175.0 760.0,175.5 760.0,176.0 760.0,176.5 760.1,177.0 760.1,177.5 760.2,178.0 760.3,178.5 760.4,179.0 760.5,179.5 760.5,180.0 760.7,180.5 760.8,181.0 760.7,181.5 760.6,182.0" fill="none" stroke="#8A4A6A" stroke-width="0.8" stroke-linejoin="round" />
<polyline points="766.8,120.0 767.0,120.5 767.8,121.0 767.4,121.5 767.5,122.0 766.4,122.5 766.5,123.0 766.4,123.5 766.7,124.0 767.1,124.5 766.8,125.0 766.7,125.5 766.2,126.0 764.8,126.5 763.2,127.0 764.8,127.5 765.0,128.0 765.7,128.5 766.4,129.0 766.9,129.5 766.6,130.0 766.4,130.5 765.6,131.0 765.0,131.5 764.9,132.0 764.4,132.5 763.2,133.0 763.2,133.5 764.3,134.0 765.0,134.5 765.6,135.0 766.2,135.5 766.8,136.0 766.8,136.5 766.6,137.0 766.5,137.5 766.2,138.0 765.6,138.5 765.6,139.0 765.3,139.5 765.4,140.0 765.5,140.5 765.8,141.0 765.5,141.5 764.8,142.0 763.2,142.5 763.2,143.0 764.5,143.5 764.8,144.0 764.9,144.5 764.8,145.0 765.2,145.5 765.5,146.0 765.9,146.5 765.9,147.0 765.4,147.5 764.8,148.0 764.5,148.5 764.2,149.0 763.2,149.5 763.2,150.0 763.2,150.5 765.1,151.0 765.0,151.5 764.9,152.0 765.0,152.5 765.5,153.0 765.8,153.5 766.2,154.0 765.7,154.5 765.2,155.0 764.6,155.5 764.3,156.0 763.2,156.5 763.2,157.0 764.0,157.5 764.5,158.0 764.6,158.5 764.7,159.0 764.5,159.5 764.5,160.0 764.4,160.5 764.5,161.0 764.6,161.5 764.6,162.0 764.8,162.5 764.6,163.0 764.2,163.5 763.8,164.0 763.2,164.5 764.0,165.0 764.5,165.5 764.7,166.0 764.9,166.5 765.1,167.0 764.7,167.5 764.4,168.0 764.3,168.5 764.3,169.0 764.4,169.5 764.2,170.0 763.2,170.5 763.8,171.0 764.0,171.5 764.1,172.0 764.1,172.5 764.0,173.0 764.0,173.5 764.1,174.0 764.2,174.5 764.3,175.0 764.3,175.5 764.4,176.0 764.4,176.5 764.3,177.0 764.2,177.5 763.9,178.0 763.9,178.5 763.7,179.0 763.6,179.5 763.5,180.0 763.4,180.5 763.2,181.0 763.3,181.5 763.5,182.0" fill="none" stroke="#D8A820" stroke-width="0.9" stroke-linejoin="round" />
<polyline points="756.8,120.0 755.5,120.5 755.0,121.0 755.0,121.5 756.1,122.0 756.6,122.5 757.1,123.0 757.1,123.5 756.5,124.0 756.5,124.5 756.0,125.0 756.5,125.5 757.3,126.0 758.8,126.5 760.8,127.0 758.6,127.5 758.4,128.0 758.1,128.5 757.2,129.0 756.6,129.5 756.1,130.0 756.8,130.5 757.7,131.0 758.3,131.5 758.6,132.0 759.1,132.5 760.8,133.0 760.8,133.5 759.3,134.0 758.6,134.5 757.6,135.0 757.1,135.5 756.4,136.0 756.3,136.5 756.5,137.0 757.0,137.5 757.4,138.0 757.9,138.5 758.2,139.0 757.9,139.5 757.7,140.0 757.5,140.5 757.6,141.0 758.0,141.5 758.8,142.0 760.8,142.5 760.8,143.0 759.2,143.5 758.8,144.0 758.9,144.5 758.7,145.0 758.3,145.5 757.7,146.0 757.5,146.5 757.6,147.0 758.1,147.5 758.8,148.0 759.3,148.5 759.5,149.0 760.8,149.5 760.8,150.0 760.8,150.5 758.7,151.0 758.6,151.5 758.7,152.0 758.5,152.5 758.2,153.0 757.4,153.5 757.0,154.0 757.6,154.5 758.2,155.0 758.9,155.5 759.6,156.0 760.8,156.5 760.8,157.0 759.9,157.5 759.1,158.0 758.8,158.5 758.9,159.0 759.2,159.5 759.3,160.0 759.3,160.5 759.2,161.0 759.0,161.5 759.0,162.0 758.8,162.5 759.2,163.0 759.5,163.5 760.1,164.0 760.8,164.5 759.7,165.0 759.2,165.5 758.7,166.0 758.6,166.5 758.5,167.0 758.9,167.5 759.2,168.0 759.5,168.5 759.3,169.0 759.4,169.5 759.6,170.0 760.8,170.5 760.1,171.0 759.7,171.5 759.8,172.0 759.8,172.5 759.8,173.0 759.7,173.5 759.7,174.0 759.6,174.5 759.6,175.0 759.4,175.5 759.4,176.0 759.5,176.5 759.6,177.0 759.5,177.5 759.9,178.0 760.0,178.5 760.2,179.0 760.3,179.5 760.4,180.0 760.6,180.5 760.8,181.0 760.6,181.5 760.4,182.0" fill="none" stroke="#D8A820" stroke-width="1.1" stroke-linejoin="round" />
<polyline points="767.4,120.0 768.9,120.5 769.4,121.0 769.6,121.5 768.4,122.0 767.7,122.5 767.6,123.0 767.5,123.5 767.5,124.0 768.2,124.5 768.2,125.0 768.3,125.5 766.9,126.0 765.3,126.5 763.2,127.0 765.6,127.5 765.7,128.0 766.3,128.5 767.5,129.0 768.1,129.5 767.7,130.0 767.3,130.5 766.5,131.0 765.6,131.5 765.6,132.0 764.8,132.5 763.2,133.0 763.2,133.5 764.7,134.0 765.5,134.5 766.3,135.0 767.5,135.5 767.7,136.0 768.4,136.5 767.8,137.0 767.5,137.5 767.1,138.0 766.6,138.5 766.0,139.0 766.2,139.5 766.4,140.0 766.4,140.5 766.3,141.0 766.3,141.5 765.3,142.0 763.2,142.5 763.2,143.0 764.9,143.5 765.3,144.0 765.2,144.5 765.6,145.0 766.0,145.5 766.4,146.0 767.1,146.5 766.4,147.0 766.0,147.5 765.3,148.0 765.0,148.5 764.5,149.0 763.2,149.5 763.2,150.0 763.2,150.5 765.6,151.0 765.6,151.5 765.6,152.0 765.8,152.5 766.2,153.0 766.7,153.5 767.0,154.0 766.6,154.5 766.0,155.0 765.0,155.5 764.5,156.0 763.2,156.5 763.2,157.0 764.2,157.5 765.1,158.0 765.4,158.5 765.1,159.0 764.9,159.5 764.9,160.0 764.8,160.5 764.7,161.0 765.2,161.5 765.4,162.0 765.2,162.5 765.0,163.0 764.6,163.5 764.1,164.0 763.2,164.5 764.3,165.0 764.8,165.5 765.3,166.0 765.8,166.5 765.6,167.0 765.2,167.5 764.8,168.0 764.6,168.5 764.7,169.0 764.9,169.5 764.6,170.0 763.2,170.5 764.0,171.0 764.4,171.5 764.4,172.0 764.3,172.5 764.2,173.0 764.2,173.5 764.3,174.0 764.4,174.5 764.7,175.0 764.6,175.5 764.7,176.0 764.8,176.5 764.7,177.0 764.4,177.5 764.3,178.0 764.0,178.5 763.9,179.0 763.8,179.5 763.7,180.0 763.5,180.5 763.2,181.0 763.4,181.5 763.6,182.0" fill="none" stroke="#8A4A6A" stroke-width="1.1" stroke-linejoin="round" />
<line x1="762.0" y1="20.7" x2="762.0" y2="232.0" stroke="#3A9A5A" stroke-width="1.1" />
<line x1="759.5" y1="22.0" x2="762.8" y2="175.0" stroke="#40B0A0" stroke-width="0.9" />
<text x="752.5" y="143.8" font-family="Liberation Sans" font-size="16" fill="#3EAA88" text-anchor="middle" >d</text>
<text x="771.0" y="143.8" font-family="Liberation Sans" font-size="16" fill="#505050" text-anchor="middle" >d</text>
<text x="736" y="146.8" font-family="Liberation Sans" font-size="17.3" fill="#D4AA20" transform="rotate(90 736 146.8)">p orbitals</text>
<text x="779" y="146.8" font-family="Liberation Sans" font-size="17.3" fill="#A07050" transform="rotate(90 779 146.8)">p orbitals</text>
<text x="750.0" y="235.0" font-family="Liberation Sans" font-size="17" fill="#000" text-anchor="middle" >α</text>
<text x="771.0" y="235.0" font-family="Liberation Sans" font-size="17" fill="#000" text-anchor="middle" >β</text>
<text x="762.0" y="267.5" font-family="Liberation Sans" font-size="18.5" fill="#000" text-anchor="middle" >CuGa</text>
<polyline points="847.9,22.0 846.7,22.5 846.6,23.0 847.4,23.5 847.6,24.0 848.1,24.5 848.3,25.0 847.5,25.5 847.6,26.0 847.9,26.5 848.9,27.0 851.3,27.5 851.3,28.0 848.3,28.5 847.5,29.0 846.8,29.5 847.0,30.0 847.7,30.5 847.8,31.0 847.7,31.5 847.0,32.0 846.9,32.5 846.8,33.0 847.3,33.5 848.7,34.0 850.2,34.5 851.3,35.0 849.9,35.5 849.4,36.0 849.1,36.5 849.2,37.0 849.4,37.5 849.4,38.0 849.1,38.5 848.9,39.0 848.4,39.5 848.2,40.0 848.4,40.5 848.3,41.0 849.2,41.5 849.6,42.0 850.0,42.5 850.7,43.0 851.3,43.5 850.2,44.0 849.6,44.5 849.2,45.0 849.1,45.5 849.2,46.0 849.4,46.5 849.7,47.0 849.5,47.5 849.6,48.0 849.5,48.5 849.1,49.0 848.9,49.5 849.0,50.0 849.3,50.5 849.7,51.0 850.3,51.5 851.3,52.0 850.1,52.5 849.7,53.0 849.7,53.5 849.8,54.0 849.8,54.5 849.5,55.0 849.1,55.5 848.9,56.0 848.9,56.5 849.1,57.0 849.3,57.5 849.9,58.0 850.4,58.5 851.3,59.0 851.3,59.5 849.7,60.0 848.6,60.5 848.3,61.0 848.4,61.5 848.5,62.0 848.5,62.5 848.5,63.0 848.1,63.5 847.9,64.0 847.5,64.5 846.7,65.0 847.1,65.5 846.7,66.0 847.2,66.5 847.5,67.0 848.2,67.5 848.9,68.0 849.4,68.5 850.1,69.0 851.3,69.5 850.3,70.0 849.5,70.5 849.4,71.0 849.4,71.5 849.4,72.0 849.5,72.5 849.6,73.0 849.3,73.5 849.1,74.0 848.6,74.5 848.7,75.0 848.6,75.5 849.1,76.0 849.7,76.5 850.1,77.0 850.7,77.5 851.3,78.0 848.7,78.5 848.4,79.0 848.3,79.5 848.2,80.0 847.7,80.5 846.6,81.0 845.9,81.5 846.3,82.0 846.7,82.5 847.6,83.0 848.4,83.5 849.4,84.0 851.3,84.5 851.3,85.0 851.3,85.5 849.8,86.0 849.2,86.5 849.0,87.0 848.5,87.5 847.5,88.0 847.3,88.5 846.8,89.0 847.0,89.5 847.7,90.0 848.2,90.5 848.7,91.0 848.7,91.5 849.0,92.0 849.1,92.5 849.7,93.0 851.3,93.5 850.4,94.0 849.6,94.5 849.3,95.0 849.5,95.5 849.6,96.0 849.6,96.5 849.5,97.0 849.4,97.5 849.1,98.0 849.2,98.5 849.3,99.0 849.8,99.5 850.4,100.0 851.3,100.5 850.0,101.0 849.4,101.5 849.0,102.0 849.0,102.5 849.3,103.0 849.5,103.5 849.5,104.0 849.4,104.5 849.1,105.0 848.6,105.5 848.4,106.0 848.5,106.5 848.2,107.0 848.6,107.5 849.0,108.0 849.4,108.5 850.0,109.0 850.4,109.5 851.3,110.0 851.3,110.5 850.0,111.0 849.0,111.5 848.5,112.0 847.3,112.5 846.5,113.0 846.8,113.5 846.2,114.0 846.6,114.5 847.5,115.0 847.6,115.5 847.9,116.0 847.9,116.5 848.2,117.0 847.4,117.5 847.8,118.0 847.8,118.5 847.8,119.0 849.2,119.5 851.3,120.0" fill="none" stroke="#8A4A6A" stroke-width="0.8" stroke-linejoin="round" />
<polyline points="858.5,22.0 859.7,22.5 859.4,23.0 859.6,23.5 858.2,24.0 858.0,24.5 857.7,25.0 858.6,25.5 858.5,26.0 858.6,26.5 857.1,27.0 853.7,27.5 853.7,28.0 857.9,28.5 859.0,29.0 859.8,29.5 859.5,30.0 858.2,30.5 858.2,31.0 858.8,31.5 859.4,32.0 859.8,32.5 859.7,33.0 859.4,33.5 857.2,34.0 855.1,34.5 853.7,35.0 855.6,35.5 856.3,36.0 856.5,36.5 856.4,37.0 856.4,37.5 856.3,38.0 856.8,38.5 857.3,39.0 857.5,39.5 858.1,40.0 857.5,40.5 857.2,41.0 856.9,41.5 856.2,42.0 855.5,42.5 854.6,43.0 853.7,43.5 855.3,44.0 855.9,44.5 856.6,45.0 856.8,45.5 856.4,46.0 856.3,46.5 855.9,47.0 855.8,47.5 856.1,48.0 856.4,48.5 856.8,49.0 856.6,49.5 856.8,50.0 856.6,50.5 855.9,51.0 855.0,51.5 853.7,52.0 855.2,52.5 856.0,53.0 855.9,53.5 855.9,54.0 855.8,54.5 855.9,55.0 856.5,55.5 856.8,56.0 857.0,56.5 856.9,57.0 856.1,57.5 855.5,58.0 854.9,58.5 853.7,59.0 853.7,59.5 855.8,60.0 857.4,60.5 857.5,61.0 857.6,61.5 857.2,62.0 857.4,62.5 857.4,63.0 857.8,63.5 858.5,64.0 858.5,64.5 859.9,65.0 859.9,65.5 859.9,66.0 859.2,66.5 858.5,67.0 857.6,67.5 856.8,68.0 856.1,68.5 855.3,69.0 853.7,69.5 855.1,70.0 856.0,70.5 856.5,71.0 856.5,71.5 856.2,72.0 855.9,72.5 856.0,73.0 856.4,73.5 856.9,74.0 857.1,74.5 857.3,75.0 857.3,75.5 856.5,76.0 855.9,76.5 855.3,77.0 854.4,77.5 853.7,78.0 857.2,78.5 857.7,79.0 857.4,79.5 857.9,80.0 858.4,80.5 860.2,81.0 861.1,81.5 860.7,82.0 860.1,82.5 858.2,83.0 857.3,83.5 856.3,84.0 853.7,84.5 853.7,85.0 853.7,85.5 855.7,86.0 856.5,86.5 856.7,87.0 858.0,87.5 858.6,88.0 859.4,88.5 859.1,89.0 859.6,89.5 858.8,90.0 857.6,90.5 857.1,91.0 856.8,91.5 856.9,92.0 856.5,92.5 855.9,93.0 853.7,93.5 854.9,94.0 856.0,94.5 856.2,95.0 856.3,95.5 856.0,96.0 855.9,96.5 855.9,97.0 856.6,97.5 856.9,98.0 856.9,98.5 856.4,99.0 855.7,99.5 854.8,100.0 853.7,100.5 855.4,101.0 856.5,101.5 856.5,102.0 856.8,102.5 856.4,103.0 856.4,103.5 856.2,104.0 856.4,104.5 856.9,105.0 857.3,105.5 857.8,106.0 857.5,106.5 857.5,107.0 857.0,107.5 856.6,108.0 856.3,108.5 855.5,109.0 854.8,109.5 853.7,110.0 853.7,110.5 855.2,111.0 856.7,111.5 857.9,112.0 858.5,112.5 859.2,113.0 859.8,113.5 860.4,114.0 859.9,114.5 858.9,115.0 858.3,115.5 858.0,116.0 858.1,116.5 858.4,117.0 858.3,117.5 858.6,118.0 858.5,118.5 858.3,119.0 856.5,119.5 853.7,120.0" fill="none" stroke="#D8A820" stroke-width="0.9" stroke-linejoin="round" />
<polyline points="845.1,22.0 844.6,22.5 844.4,23.0 843.9,23.5 845.7,24.0 846.4,24.5 845.9,25.0 845.5,25.5 844.5,26.0 845.6,26.5 846.9,27.0 851.3,27.5 851.3,28.0 846.4,28.5 844.5,29.0 843.6,29.5 844.3,30.0 844.9,30.5 845.5,31.0 845.8,31.5 844.0,32.0 843.5,32.5 843.9,33.0 845.0,33.5 846.3,34.0 849.6,34.5 851.3,35.0 848.9,35.5 847.8,36.0 847.4,36.5 847.7,37.0 847.9,37.5 847.9,38.0 847.8,38.5 846.8,39.0 846.6,39.5 845.9,40.0 845.8,40.5 846.5,41.0 847.7,41.5 848.2,42.0 849.1,42.5 850.3,43.0 851.3,43.5 849.6,44.0 848.4,44.5 848.1,45.0 847.4,45.5 847.7,46.0 848.0,46.5 848.4,47.0 848.4,47.5 848.2,48.0 848.1,48.5 847.7,49.0 847.4,49.5 847.6,50.0 847.9,50.5 848.6,51.0 849.6,51.5 851.3,52.0 849.3,52.5 848.5,53.0 848.6,53.5 848.4,54.0 848.8,54.5 848.5,55.0 848.0,55.5 847.1,56.0 846.9,56.5 847.5,57.0 848.2,57.5 849.1,58.0 849.7,58.5 851.3,59.0 851.3,59.5 848.8,60.0 846.9,60.5 846.5,61.0 846.5,61.5 846.6,62.0 846.9,62.5 846.9,63.0 846.2,63.5 845.3,64.0 844.6,64.5 844.5,65.0 843.6,65.5 844.4,66.0 844.6,66.5 845.0,67.0 846.0,67.5 847.3,68.0 848.0,68.5 849.2,69.0 851.3,69.5 849.5,70.0 848.3,70.5 847.7,71.0 847.9,71.5 848.2,72.0 848.3,72.5 848.2,73.0 848.0,73.5 847.2,74.0 846.7,74.5 846.8,75.0 846.8,75.5 848.0,76.0 848.5,76.5 849.3,77.0 850.4,77.5 851.3,78.0 847.3,78.5 846.1,79.0 846.3,79.5 846.2,80.0 845.4,80.5 843.0,81.0 842.8,81.5 843.2,82.0 844.1,82.5 845.6,83.0 846.6,83.5 848.1,84.0 851.3,84.5 851.3,85.0 851.3,85.5 848.7,86.0 848.2,86.5 847.3,87.0 846.5,87.5 845.4,88.0 844.1,88.5 843.5,89.0 844.0,89.5 845.6,90.0 846.2,90.5 846.6,91.0 847.5,91.5 847.5,92.0 847.5,92.5 848.8,93.0 851.3,93.5 849.8,94.0 848.4,94.5 848.0,95.0 848.2,95.5 848.5,96.0 848.7,96.5 848.7,97.0 847.9,97.5 847.7,98.0 847.2,98.5 847.8,99.0 848.9,99.5 849.8,100.0 851.3,100.5 849.0,101.0 848.3,101.5 847.7,102.0 847.9,102.5 847.7,103.0 848.3,103.5 848.0,104.0 847.6,104.5 847.2,105.0 847.1,105.5 846.4,106.0 846.6,106.5 846.5,107.0 846.6,107.5 847.3,108.0 848.5,108.5 849.1,109.0 849.9,109.5 851.3,110.0 851.3,110.5 849.5,111.0 847.5,111.5 845.9,112.0 844.9,112.5 844.1,113.0 842.9,113.5 843.3,114.0 844.2,114.5 844.8,115.0 845.6,115.5 845.5,116.0 845.9,116.5 845.5,117.0 844.9,117.5 844.5,118.0 845.4,118.5 846.0,119.0 847.6,119.5 851.3,120.0" fill="none" stroke="#D8A820" stroke-width="1.1" stroke-linejoin="round" />
<polyline points="860.4,22.0 861.9,22.5 862.3,23.0 860.6,23.5 860.1,24.0 859.3,24.5 859.5,25.0 859.7,25.5 860.2,26.0 860.0,26.5 857.9,27.0 853.7,27.5 853.7,28.0 859.1,28.5 860.4,29.0 861.0,29.5 861.2,30.0 860.1,30.5 859.8,31.0 860.4,31.5 861.0,32.0 861.4,32.5 862.4,33.0 861.0,33.5 858.9,34.0 855.5,34.5 853.7,35.0 856.3,35.5 857.3,36.0 857.8,36.5 857.4,37.0 857.3,37.5 857.4,38.0 857.5,38.5 858.0,39.0 858.9,39.5 859.5,40.0 859.3,40.5 858.7,41.0 858.0,41.5 856.7,42.0 855.9,42.5 854.8,43.0 853.7,43.5 855.8,44.0 856.7,44.5 857.2,45.0 857.4,45.5 857.3,46.0 857.1,46.5 856.9,47.0 856.9,47.5 856.8,48.0 857.2,48.5 857.5,49.0 857.8,49.5 858.0,50.0 857.4,50.5 856.5,51.0 855.4,51.5 853.7,52.0 855.9,52.5 856.8,53.0 857.0,53.5 856.5,54.0 856.5,54.5 857.0,55.0 857.4,55.5 858.2,56.0 857.9,56.5 858.1,57.0 856.8,57.5 856.2,58.0 855.2,58.5 853.7,59.0 853.7,59.5 856.7,60.0 858.5,60.5 859.4,61.0 859.3,61.5 859.2,62.0 858.7,62.5 859.2,63.0 859.4,63.5 859.8,64.0 861.3,64.5 861.3,65.0 861.4,65.5 861.1,66.0 861.1,66.5 859.8,67.0 859.4,67.5 858.3,68.0 856.9,68.5 855.8,69.0 853.7,69.5 855.7,70.0 856.7,70.5 857.3,71.0 857.4,71.5 856.9,72.0 856.8,72.5 857.2,73.0 857.3,73.5 857.8,74.0 858.7,74.5 858.8,75.0 858.5,75.5 857.7,76.0 856.7,76.5 855.9,77.0 854.7,77.5 853.7,78.0 858.4,78.5 858.9,79.0 859.0,79.5 859.4,80.0 860.9,80.5 862.1,81.0 863.2,81.5 863.5,82.0 861.3,82.5 860.2,83.0 858.4,83.5 857.4,84.0 853.7,84.5 853.7,85.0 853.7,85.5 856.8,86.0 857.2,86.5 858.4,87.0 858.7,87.5 860.3,88.0 861.3,88.5 861.2,89.0 861.3,89.5 860.3,90.0 859.2,90.5 858.6,91.0 857.7,91.5 857.9,92.0 858.0,92.5 856.3,93.0 853.7,93.5 855.4,94.0 856.6,94.5 857.4,95.0 857.0,95.5 856.8,96.0 856.6,96.5 856.6,97.0 857.4,97.5 857.7,98.0 858.0,98.5 857.4,99.0 856.5,99.5 855.3,100.0 853.7,100.5 856.1,101.0 857.5,101.5 857.4,102.0 857.9,102.5 857.7,103.0 857.2,103.5 857.4,104.0 857.6,104.5 858.0,105.0 858.3,105.5 858.8,106.0 859.0,106.5 858.8,107.0 858.9,107.5 857.7,108.0 856.9,108.5 856.1,109.0 855.3,109.5 853.7,110.0 853.7,110.5 855.8,111.0 857.7,111.5 859.0,112.0 860.3,112.5 861.2,113.0 861.9,113.5 862.0,114.0 862.3,114.5 861.0,115.0 859.8,115.5 859.6,116.0 859.2,116.5 859.9,117.0 860.2,117.5 861.0,118.0 860.1,118.5 859.8,119.0 857.3,119.5 853.7,120.0" fill="none" stroke="#8A4A6A" stroke-width="1.1" stroke-linejoin="round" />
<polyline points="849.4,120.0 849.4,120.5 849.5,121.0 849.5,121.5 849.7,122.0 849.4,122.5 849.2,123.0 849.2,123.5 848.7,124.0 848.6,124.5 848.5,125.0 848.4,125.5 848.6,126.0 849.2,126.5 849.4,127.0 849.8,127.5 850.1,128.0 850.6,128.5 851.3,129.0 851.3,129.5 851.3,130.0 850.0,130.5 849.5,131.0 849.2,131.5 848.9,132.0 849.1,132.5 849.3,133.0 849.7,133.5 849.6,134.0 849.6,134.5 849.2,135.0 849.5,135.5 849.9,136.0 851.3,136.5 850.9,137.0 849.9,137.5 849.6,138.0 849.4,138.5 849.4,139.0 849.5,139.5 849.5,140.0 849.7,140.5 849.5,141.0 849.5,141.5 849.0,142.0 849.1,142.5 848.7,143.0 849.0,143.5 849.1,144.0 849.4,144.5 849.8,145.0 850.2,145.5 850.5,146.0 851.3,146.5 851.3,147.0 849.4,147.5 848.8,148.0 848.1,148.5 847.8,149.0 847.5,149.5 847.7,150.0 848.5,150.5 848.6,151.0 848.9,151.5 848.6,152.0 848.3,152.5 848.1,153.0 848.1,153.5 848.6,154.0 849.1,154.5 849.9,155.0 851.3,155.5 851.3,156.0 850.8,156.5 850.4,157.0 850.0,157.5 850.1,158.0 850.0,158.5 850.1,159.0 850.2,159.5 850.2,160.0 850.2,160.5 850.2,161.0 850.0,161.5 849.9,162.0 850.0,162.5 850.1,163.0 850.1,163.5 850.4,164.0 850.6,164.5 851.0,165.0 851.3,165.5 850.7,166.0 850.2,166.5 850.0,167.0 849.9,167.5 850.2,168.0 850.3,168.5 850.3,169.0 850.2,169.5 850.0,170.0 850.0,170.5 850.0,171.0 850.1,171.5 850.3,172.0 850.8,172.5 851.3,173.0 851.3,173.5 850.3,174.0 849.8,174.5 849.7,175.0 849.8,175.5 849.6,176.0 849.9,176.5 849.8,177.0 849.9,177.5 849.8,178.0 849.6,178.5 849.6,179.0 849.2,179.5 849.3,180.0 849.5,180.5 849.7,181.0 849.8,181.5 850.1,182.0 850.4,182.5 850.7,183.0 851.3,183.5 851.3,184.0 850.6,184.5 850.5,185.0 850.5,185.5 850.4,186.0 850.2,186.5 850.2,187.0 850.0,187.5 849.9,188.0 849.9,188.5 850.0,189.0 850.1,189.5 850.3,190.0 850.4,190.5 850.6,191.0 850.6,191.5 850.7,192.0 850.9,192.5 851.3,193.0 851.3,193.5 851.0,194.0 850.5,194.5 850.4,195.0 850.4,195.5 850.6,196.0 850.5,196.5 850.5,197.0 850.4,197.5 850.2,198.0 850.2,198.5 850.2,199.0 850.5,199.5 850.7,200.0" fill="none" stroke="#8A4A6A" stroke-width="0.8" stroke-linejoin="round" />
<polyline points="856.1,120.0 856.5,120.5 856.4,121.0 856.0,121.5 856.2,122.0 856.2,122.5 856.2,123.0 856.9,123.5 856.9,124.0 857.2,124.5 857.3,125.0 857.3,125.5 856.8,126.0 856.7,126.5 856.2,127.0 855.6,127.5 855.3,128.0 854.7,128.5 853.7,129.0 853.7,129.5 853.7,130.0 855.4,130.5 856.0,131.0 856.6,131.5 856.8,132.0 856.4,132.5 856.3,133.0 855.9,133.5 855.8,134.0 856.2,134.5 856.3,135.0 856.1,135.5 855.4,136.0 853.7,136.5 854.3,137.0 855.5,137.5 856.1,138.0 856.3,138.5 856.0,139.0 856.2,139.5 855.7,140.0 855.8,140.5 856.1,141.0 856.1,141.5 856.5,142.0 856.8,142.5 856.9,143.0 856.9,143.5 856.6,144.0 856.2,144.5 855.6,145.0 855.4,145.5 854.8,146.0 853.7,146.5 853.7,147.0 856.0,147.5 857.2,148.0 858.3,148.5 858.6,149.0 858.5,149.5 858.2,150.0 857.5,150.5 857.3,151.0 857.0,151.5 856.9,152.0 857.3,152.5 857.5,153.0 858.0,153.5 857.8,154.0 857.0,154.5 855.5,155.0 853.7,155.5 853.7,156.0 854.3,156.5 855.1,157.0 855.3,157.5 855.3,158.0 855.4,158.5 855.2,159.0 855.1,159.5 855.0,160.0 855.1,160.5 855.3,161.0 855.4,161.5 855.6,162.0 855.6,162.5 855.4,163.0 855.4,163.5 854.8,164.0 854.6,164.5 854.1,165.0 853.7,165.5 854.4,166.0 855.2,166.5 855.4,167.0 855.5,167.5 855.2,168.0 855.0,168.5 855.1,169.0 855.1,169.5 855.3,170.0 855.7,170.5 855.6,171.0 855.2,171.5 855.0,172.0 854.4,172.5 853.7,173.0 853.7,173.5 855.3,174.0 855.6,174.5 856.0,175.0 855.9,175.5 855.6,176.0 855.6,176.5 855.7,177.0 855.6,177.5 855.6,178.0 855.9,178.5 856.1,179.0 856.1,179.5 856.4,180.0 856.3,180.5 855.9,181.0 855.6,181.5 855.3,182.0 854.9,182.5 854.4,183.0 853.7,183.5 853.7,184.0 854.5,184.5 854.8,185.0 854.7,185.5 854.8,186.0 855.1,186.5 855.2,187.0 855.6,187.5 855.7,188.0 855.6,188.5 855.5,189.0 855.3,189.5 855.1,190.0 854.8,190.5 854.6,191.0 854.6,191.5 854.5,192.0 854.3,192.5 853.7,193.0 853.7,193.5 854.1,194.0 854.7,194.5 854.9,195.0 854.9,195.5 854.9,196.0 854.7,196.5 854.8,197.0 854.8,197.5 855.1,198.0 855.1,198.5 855.0,199.0 854.8,199.5 854.5,200.0" fill="none" stroke="#D8A820" stroke-width="0.9" stroke-linejoin="round" />
<polyline points="848.0,120.0 847.8,120.5 847.9,121.0 848.5,121.5 848.3,122.0 848.3,122.5 848.0,123.0 847.8,123.5 847.4,124.0 846.9,124.5 846.9,125.0 846.8,125.5 847.5,126.0 847.9,126.5 848.2,127.0 848.9,127.5 849.4,128.0 850.0,128.5 851.3,129.0 851.3,129.5 851.3,130.0 849.3,130.5 848.4,131.0 847.4,131.5 847.4,132.0 847.7,132.5 848.2,133.0 848.4,133.5 848.6,134.0 848.1,134.5 848.1,135.0 848.2,135.5 849.0,136.0 851.3,136.5 850.6,137.0 849.0,137.5 848.3,138.0 848.0,138.5 848.1,139.0 848.4,139.5 848.5,140.0 848.7,140.5 848.6,141.0 848.2,141.5 847.6,142.0 847.6,142.5 847.5,143.0 847.6,143.5 847.9,144.0 848.2,144.5 848.7,145.0 849.2,145.5 849.9,146.0 851.3,146.5 851.3,147.0 848.3,147.5 847.0,148.0 846.0,148.5 845.0,149.0 845.2,149.5 845.9,150.0 846.7,150.5 846.7,151.0 847.0,151.5 846.7,152.0 846.8,152.5 846.1,153.0 845.7,153.5 846.4,154.0 847.1,154.5 849.1,155.0 851.3,155.5 851.3,156.0 850.4,156.5 849.8,157.0 849.3,157.5 849.3,158.0 849.1,158.5 849.3,159.0 849.4,159.5 849.5,160.0 849.4,160.5 849.3,161.0 849.0,161.5 848.9,162.0 849.0,162.5 848.9,163.0 849.4,163.5 849.9,164.0 850.3,164.5 850.8,165.0 851.3,165.5 850.5,166.0 849.4,166.5 849.0,167.0 849.2,167.5 849.4,168.0 849.5,168.5 849.7,169.0 849.4,169.5 849.1,170.0 849.1,170.5 849.0,171.0 849.1,171.5 849.7,172.0 850.4,172.5 851.3,173.0 851.3,173.5 849.3,174.0 848.7,174.5 848.4,175.0 848.5,175.5 848.8,176.0 848.8,176.5 848.9,177.0 848.9,177.5 848.9,178.0 848.6,178.5 848.3,179.0 847.9,179.5 848.0,180.0 848.1,180.5 848.3,181.0 849.0,181.5 849.3,182.0 849.9,182.5 850.3,183.0 851.3,183.5 851.3,184.0 850.2,184.5 850.1,185.0 849.9,185.5 849.9,186.0 849.6,186.5 849.3,187.0 849.2,187.5 848.9,188.0 848.9,188.5 849.0,189.0 849.2,189.5 849.7,190.0 849.9,190.5 850.0,191.0 850.3,191.5 850.2,192.0 850.6,192.5 851.3,193.0 851.3,193.5 850.8,194.0 850.0,194.5 849.8,195.0 849.8,195.5 850.0,196.0 850.0,196.5 850.0,197.0 849.7,197.5 849.6,198.0 849.5,198.5 849.6,199.0 850.0,199.5 850.2,200.0" fill="none" stroke="#D8A820" stroke-width="1.1" stroke-linejoin="round" />
<polyline points="857.2,120.0 857.4,120.5 856.9,121.0 857.2,121.5 856.7,122.0 857.1,122.5 857.0,123.0 857.9,123.5 857.9,124.0 858.7,124.5 858.8,125.0 858.8,125.5 858.1,126.0 857.8,126.5 857.2,127.0 856.1,127.5 855.7,128.0 855.2,128.5 853.7,129.0 853.7,129.5 853.7,130.0 856.0,130.5 857.0,131.0 857.6,131.5 858.2,132.0 857.3,132.5 857.1,133.0 856.8,133.5 856.5,134.0 856.9,134.5 857.1,135.0 857.1,135.5 856.1,136.0 853.7,136.5 854.6,137.0 856.5,137.5 856.9,138.0 857.4,138.5 856.8,139.0 856.7,139.5 856.8,140.0 856.8,140.5 857.0,141.0 857.4,141.5 857.8,142.0 857.7,142.5 858.2,143.0 858.3,143.5 857.4,144.0 857.1,144.5 856.4,145.0 855.7,145.5 855.2,146.0 853.7,146.5 853.7,147.0 857.1,147.5 858.9,148.0 859.3,148.5 860.2,149.0 860.7,149.5 860.0,150.0 859.1,150.5 858.3,151.0 858.3,151.5 858.2,152.0 858.9,152.5 859.4,153.0 859.2,153.5 859.2,154.0 857.9,154.5 856.2,155.0 853.7,155.5 853.7,156.0 854.7,156.5 855.4,157.0 855.8,157.5 856.0,158.0 855.9,158.5 855.9,159.0 855.5,159.5 855.5,160.0 855.5,160.5 855.8,161.0 856.0,161.5 856.2,162.0 856.4,162.5 855.9,163.0 855.9,163.5 855.4,164.0 854.9,164.5 854.2,165.0 853.7,165.5 854.7,166.0 855.6,166.5 856.0,167.0 856.0,167.5 855.8,168.0 855.6,168.5 855.5,169.0 855.8,169.5 856.1,170.0 856.3,170.5 856.0,171.0 855.8,171.5 855.4,172.0 854.8,172.5 853.7,173.0 853.7,173.5 855.7,174.0 856.5,174.5 856.8,175.0 856.5,175.5 856.4,176.0 856.4,176.5 856.1,177.0 856.3,177.5 856.4,178.0 856.5,178.5 857.0,179.0 857.0,179.5 857.4,180.0 857.3,180.5 856.8,181.0 856.5,181.5 855.7,182.0 855.2,182.5 854.7,183.0 853.7,183.5 853.7,184.0 854.8,184.5 855.1,185.0 855.0,185.5 855.4,186.0 855.5,186.5 855.9,187.0 855.9,187.5 856.5,188.0 856.5,188.5 856.0,189.0 855.8,189.5 855.4,190.0 855.2,190.5 854.9,191.0 854.9,191.5 854.8,192.0 854.6,192.5 853.7,193.0 853.7,193.5 854.2,194.0 855.2,194.5 855.4,195.0 855.3,195.5 855.1,196.0 855.2,196.5 855.2,197.0 855.5,197.5 855.5,198.0 855.5,198.5 855.4,199.0 855.1,199.5 854.9,200.0" fill="none" stroke="#8A4A6A" stroke-width="1.1" stroke-linejoin="round" />
<polygon points="852.5,87.5 851.3,89.4 850.1,89.9 848.5,90.2 847.7,91.5 844.5,92.0 847.7,92.5 848.5,93.8 850.1,94.1 851.3,94.6 852.5,96.5" fill="#fff" stroke="#E03848" stroke-width="1.1" stroke-linejoin="round"/>
<polygon points="852.5,87.5 853.7,89.4 854.9,89.9 856.5,90.2 857.3,91.5 860.5,92.0 857.3,92.5 856.5,93.8 854.9,94.1 853.7,94.6 852.5,96.5" fill="#fff" stroke="#2878D0" stroke-width="1.1" stroke-linejoin="round"/>
<polygon points="852.5,82.1 851.6,83.8 850.7,84.2 849.5,84.5 848.9,85.5 846.5,86.0 848.9,86.5 849.5,87.5 850.7,87.8 851.6,88.2 852.5,89.9" fill="#fff" stroke="#E03848" stroke-width="1.1" stroke-linejoin="round"/>
<polygon points="852.5,82.1 853.4,83.8 854.3,84.2 855.5,84.5 856.1,85.5 858.5,86.0 856.1,86.5 855.5,87.5 854.3,87.8 853.4,88.2 852.5,89.9" fill="#fff" stroke="#2878D0" stroke-width="1.1" stroke-linejoin="round"/>
<polygon points="852.5,191.2 848.5,192.6 844.5,193.0 838.8,193.2 836.0,194.1 825.0,194.5 836.0,194.9 838.8,195.8 844.5,196.0 848.5,196.4 852.5,197.8" fill="#fff" stroke="#E03848" stroke-width="1.1" stroke-linejoin="round"/>
<polygon points="852.5,191.2 856.5,192.6 860.5,193.0 867.0,193.2 869.9,194.1 881.5,194.5 869.9,194.9 867.0,195.8 860.5,196.0 856.5,196.4 852.5,197.8" fill="#fff" stroke="#2878D0" stroke-width="1.1" stroke-linejoin="round"/>
<polygon points="852.5,205.1 851.9,205.9 851.3,206.1 850.5,206.2 850.1,206.8 848.5,207.0 850.1,207.2 850.5,207.8 851.3,207.9 851.9,208.1 852.5,208.9" fill="#fff" stroke="#E03848" stroke-width="1.1" stroke-linejoin="round"/>
<polygon points="852.5,205.1 853.1,205.9 853.7,206.1 854.5,206.2 854.9,206.8 856.5,207.0 854.9,207.2 854.5,207.8 853.7,207.9 853.1,208.1 852.5,208.9" fill="#fff" stroke="#2878D0" stroke-width="1.1" stroke-linejoin="round"/>
<line x1="852.5" y1="21.0" x2="852.5" y2="232.0" stroke="#3A9A5A" stroke-width="1.2" />
<circle cx="852.5" cy="26.0" r="1.1" fill="#3A7A4A"/>
<circle cx="852.5" cy="31.3" r="1.1" fill="#3A7A4A"/>
<circle cx="852.5" cy="36.6" r="1.1" fill="#3A7A4A"/>
<circle cx="852.5" cy="41.9" r="1.1" fill="#3A7A4A"/>
<circle cx="852.5" cy="47.2" r="1.1" fill="#3A7A4A"/>
<circle cx="852.5" cy="52.5" r="1.1" fill="#3A7A4A"/>
<circle cx="852.5" cy="57.8" r="1.1" fill="#3A7A4A"/>
<circle cx="852.5" cy="63.1" r="1.1" fill="#3A7A4A"/>
<circle cx="852.5" cy="68.4" r="1.1" fill="#3A7A4A"/>
<circle cx="852.5" cy="73.7" r="1.1" fill="#3A7A4A"/>
<circle cx="852.5" cy="79.0" r="1.1" fill="#3A7A4A"/>
<circle cx="852.5" cy="84.3" r="1.1" fill="#3A7A4A"/>
<circle cx="852.5" cy="89.6" r="1.1" fill="#3A7A4A"/>
<circle cx="852.5" cy="94.9" r="1.1" fill="#3A7A4A"/>
<circle cx="852.5" cy="100.2" r="1.1" fill="#3A7A4A"/>
<circle cx="852.5" cy="105.5" r="1.1" fill="#3A7A4A"/>
<circle cx="852.5" cy="110.8" r="1.1" fill="#3A7A4A"/>
<circle cx="852.5" cy="116.1" r="1.1" fill="#3A7A4A"/>
<circle cx="852.5" cy="121.4" r="1.1" fill="#3A7A4A"/>
<circle cx="852.5" cy="126.7" r="1.1" fill="#3A7A4A"/>
<circle cx="852.5" cy="132.0" r="1.1" fill="#3A7A4A"/>
<circle cx="852.5" cy="137.3" r="1.1" fill="#3A7A4A"/>
<circle cx="852.5" cy="142.6" r="1.1" fill="#3A7A4A"/>
<circle cx="852.5" cy="147.9" r="1.1" fill="#3A7A4A"/>
<circle cx="852.5" cy="153.2" r="1.1" fill="#3A7A4A"/>
<circle cx="852.5" cy="158.5" r="1.1" fill="#3A7A4A"/>
<circle cx="852.5" cy="163.8" r="1.1" fill="#3A7A4A"/>
<circle cx="852.5" cy="169.1" r="1.1" fill="#3A7A4A"/>
<circle cx="852.5" cy="174.4" r="1.1" fill="#3A7A4A"/>
<circle cx="852.5" cy="179.7" r="1.1" fill="#3A7A4A"/>
<circle cx="852.5" cy="185.0" r="1.1" fill="#3A7A4A"/>
<circle cx="852.5" cy="190.3" r="1.1" fill="#3A7A4A"/>
<circle cx="852.5" cy="195.6" r="1.1" fill="#3A7A4A"/>
<circle cx="852.5" cy="200.9" r="1.1" fill="#3A7A4A"/>
<circle cx="852.5" cy="206.2" r="1.1" fill="#3A7A4A"/>
<circle cx="852.5" cy="211.5" r="1.1" fill="#3A7A4A"/>
<circle cx="852.5" cy="216.8" r="1.1" fill="#3A7A4A"/>
<circle cx="852.5" cy="222.1" r="1.1" fill="#3A7A4A"/>
<circle cx="852.5" cy="227.4" r="1.1" fill="#3A7A4A"/>
<text x="869" y="43.6" font-family="Liberation Serif" font-size="14.8">p-π<tspan font-size="9" dy="-5">*</tspan><tspan dy="5">(unocc)</tspan></text>
<line x1="874.2" y1="50.8" x2="861.5" y2="79.0" stroke="#4070C0" stroke-width="0.9" />
<polyline points="859.5,74.5 860.9,79.5 865.5,77.3" fill="none" stroke="#4070C0" stroke-width="1.2" stroke-linejoin="round" />
<text x="840.0" y="235.0" font-family="Liberation Sans" font-size="17" fill="#000" text-anchor="middle" >α</text>
<text x="860.0" y="235.0" font-family="Liberation Sans" font-size="17" fill="#000" text-anchor="middle" >β</text>
<text x="853.0" y="267.5" font-family="Liberation Sans" font-size="18.5" fill="#000" text-anchor="middle" >CuGa/CO</text>
<line x1="943.7" y1="21.0" x2="943.7" y2="232.0" stroke="#E06070" stroke-width="1.3" />
<polyline points="943.8,22.0 943.3,22.7 943.4,23.4 943.9,24.1 944.5,24.8 944.7,25.5 944.3,26.2 943.7,26.9 943.3,27.6 943.4,28.3 944.0,29.0 944.6,29.7 944.7,30.4 944.3,31.1 943.7,31.8 943.3,32.5 943.5,33.2 944.1,33.9 944.6,34.6 944.7,35.3 944.2,36.0 943.6,36.7 943.3,37.4 943.5,38.1 944.1,38.8 944.6,39.5 944.6,40.2 944.2,40.9 943.6,41.6 943.3,42.3 943.6,43.0 944.2,43.7 944.6,44.4 944.6,45.1 944.1,45.8 943.5,46.5 943.3,47.2 943.6,47.9 944.2,48.6 944.7,49.3 944.6,50.0 944.0,50.7 943.5,51.4 943.3,52.1 943.7,52.8 944.3,53.5 944.7,54.2 944.5,54.9 944.0,55.6 943.4,56.3 943.3,57.0 943.7,57.7 944.3,58.4 944.7,59.1 944.5,59.8 943.9,60.5 943.4,61.2 943.3,61.9 943.8,62.6 944.4,63.3 944.7,64.0 944.5,64.7 943.9,65.4 943.4,66.1 943.4,66.8 943.9,67.5 944.4,68.2 944.7,68.9 944.4,69.6 943.8,70.3 943.3,71.0 943.4,71.7 943.9,72.4 944.5,73.1 944.7,73.8 944.4,74.5 943.7,75.2 943.3,75.9 943.4,76.6 944.0,77.3" fill="none" stroke="#5060B0" stroke-width="1.0" stroke-linejoin="round" />
<polygon points="943.7,87.0 939.7,88.1 935.7,88.4 917.7,88.7 912.5,89.4 891.7,89.7 912.5,90.0 917.7,90.8 935.7,91.0 939.7,91.3 943.7,92.4" fill="#fff" stroke="#E03848" stroke-width="1.1" stroke-linejoin="round"/>
<polygon points="943.7,87.0 947.7,88.1 951.7,88.4 970.2,88.7 975.5,89.4 996.7,89.7 975.5,90.0 970.2,90.8 951.7,91.0 947.7,91.3 943.7,92.4" fill="#fff" stroke="#2878D0" stroke-width="1.1" stroke-linejoin="round"/>
<polygon points="943.7,159.0 940.2,160.3 936.8,160.6 932.2,160.8 929.9,161.7 920.7,162.0 929.9,162.3 932.2,163.2 936.8,163.4 940.2,163.7 943.7,165.0" fill="#fff" stroke="#E03848" stroke-width="1.1" stroke-linejoin="round"/>
<polygon points="943.7,159.0 947.2,160.3 950.6,160.6 955.2,160.8 957.5,161.7 966.7,162.0 957.5,162.3 955.2,163.2 950.6,163.4 947.2,163.7 943.7,165.0" fill="#fff" stroke="#2878D0" stroke-width="1.1" stroke-linejoin="round"/>
<polygon points="943.7,188.5 939.7,189.8 935.7,190.1 930.2,190.3 927.5,191.2 916.7,191.5 927.5,191.8 930.2,192.7 935.7,192.9 939.7,193.2 943.7,194.5" fill="#fff" stroke="#E03848" stroke-width="1.1" stroke-linejoin="round"/>
<polygon points="943.7,188.5 947.7,189.8 951.7,190.1 957.2,190.3 959.9,191.2 970.7,191.5 959.9,191.8 957.2,192.7 951.7,192.9 947.7,193.2 943.7,194.5" fill="#fff" stroke="#2878D0" stroke-width="1.1" stroke-linejoin="round"/>
<text x="968.5" y="85.0" font-family="Liberation Serif" font-size="20.5" fill="#000" text-anchor="middle" >π<tspan font-size="12" dy="-8">*</tspan></text>
<text x="966.0" y="158.0" font-family="Liberation Serif" font-size="19" fill="#000" text-anchor="middle" >σ</text>
<text x="966.0" y="187.0" font-family="Liberation Serif" font-size="19" fill="#000" text-anchor="middle" >π</text>
<text x="932.0" y="235.0" font-family="Liberation Sans" font-size="17" fill="#000" text-anchor="middle" >α</text>
<text x="952.0" y="235.0" font-family="Liberation Sans" font-size="17" fill="#000" text-anchor="middle" >β</text>
<text x="943.5" y="267.5" font-family="Liberation Sans" font-size="18.5" fill="#000" text-anchor="middle" >CO</text>
<circle cx="53.4" cy="295.9" r="8.8" fill="url(#cu)" stroke="#9A5A14" stroke-width="0.7"/>
<circle cx="73.0" cy="295.9" r="8.8" fill="url(#cu)" stroke="#9A5A14" stroke-width="0.7"/>
<circle cx="92.6" cy="295.9" r="8.8" fill="url(#cu)" stroke="#9A5A14" stroke-width="0.7"/>
<circle cx="112.2" cy="295.9" r="8.8" fill="url(#cu)" stroke="#9A5A14" stroke-width="0.7"/>
<circle cx="63.1" cy="312.5" r="8.8" fill="url(#cu)" stroke="#9A5A14" stroke-width="0.7"/>
<circle cx="82.7" cy="312.5" r="8.8" fill="url(#cu)" stroke="#9A5A14" stroke-width="0.7"/>
<circle cx="102.3" cy="312.5" r="8.8" fill="url(#cu)" stroke="#9A5A14" stroke-width="0.7"/>
<circle cx="121.9" cy="312.5" r="8.8" fill="url(#cu)" stroke="#9A5A14" stroke-width="0.7"/>
<circle cx="72.8" cy="329.1" r="8.8" fill="url(#cu)" stroke="#9A5A14" stroke-width="0.7"/>
<circle cx="92.4" cy="329.1" r="8.8" fill="url(#cu)" stroke="#9A5A14" stroke-width="0.7"/>
<circle cx="112.0" cy="329.1" r="8.8" fill="url(#cu)" stroke="#9A5A14" stroke-width="0.7"/>
<circle cx="131.6" cy="329.1" r="8.8" fill="url(#cu)" stroke="#9A5A14" stroke-width="0.7"/>
<circle cx="82.5" cy="345.7" r="8.8" fill="url(#cu)" stroke="#9A5A14" stroke-width="0.7"/>
<circle cx="102.1" cy="345.7" r="8.8" fill="url(#cu)" stroke="#9A5A14" stroke-width="0.7"/>
<circle cx="121.7" cy="345.7" r="8.8" fill="url(#cu)" stroke="#9A5A14" stroke-width="0.7"/>
<circle cx="141.3" cy="345.7" r="8.8" fill="url(#cu)" stroke="#9A5A14" stroke-width="0.7"/>
<circle cx="63.6" cy="301.9" r="8.8" fill="url(#cu)" stroke="#9A5A14" stroke-width="0.7"/>
<circle cx="83.2" cy="301.9" r="8.8" fill="url(#cu)" stroke="#9A5A14" stroke-width="0.7"/>
<circle cx="102.8" cy="301.9" r="8.8" fill="url(#cu)" stroke="#9A5A14" stroke-width="0.7"/>
<circle cx="122.4" cy="301.9" r="8.8" fill="url(#cu)" stroke="#9A5A14" stroke-width="0.7"/>
<circle cx="73.3" cy="318.5" r="8.8" fill="url(#cu)" stroke="#9A5A14" stroke-width="0.7"/>
<circle cx="92.9" cy="318.5" r="8.8" fill="url(#cu)" stroke="#9A5A14" stroke-width="0.7"/>
<circle cx="112.5" cy="318.5" r="8.8" fill="url(#cu)" stroke="#9A5A14" stroke-width="0.7"/>
<circle cx="132.1" cy="318.5" r="8.8" fill="url(#cu)" stroke="#9A5A14" stroke-width="0.7"/>
<circle cx="83.0" cy="335.1" r="8.8" fill="url(#cu)" stroke="#9A5A14" stroke-width="0.7"/>
<circle cx="102.6" cy="335.1" r="8.8" fill="url(#cu)" stroke="#9A5A14" stroke-width="0.7"/>
<circle cx="122.2" cy="335.1" r="8.8" fill="url(#cu)" stroke="#9A5A14" stroke-width="0.7"/>
<circle cx="141.8" cy="335.1" r="8.8" fill="url(#cu)" stroke="#9A5A14" stroke-width="0.7"/>
<circle cx="92.7" cy="351.7" r="8.8" fill="url(#cu)" stroke="#9A5A14" stroke-width="0.7"/>
<circle cx="112.3" cy="351.7" r="8.8" fill="url(#cu)" stroke="#9A5A14" stroke-width="0.7"/>
<circle cx="131.9" cy="351.7" r="8.8" fill="url(#cu)" stroke="#9A5A14" stroke-width="0.7"/>
<circle cx="151.5" cy="351.7" r="8.8" fill="url(#cu)" stroke="#9A5A14" stroke-width="0.7"/>
<circle cx="83.7" cy="313.4" r="2.4" fill="#FFE9A8"/>
<circle cx="103.3" cy="313.4" r="2.4" fill="#FFE9A8"/>
<circle cx="122.9" cy="313.4" r="2.4" fill="#FFE9A8"/>
<circle cx="93.4" cy="330.0" r="2.4" fill="#FFE9A8"/>
<circle cx="113.0" cy="330.0" r="2.4" fill="#FFE9A8"/>
<circle cx="132.6" cy="330.0" r="2.4" fill="#FFE9A8"/>
<circle cx="103.1" cy="346.6" r="2.4" fill="#FFE9A8"/>
<circle cx="122.7" cy="346.6" r="2.4" fill="#FFE9A8"/>
<circle cx="142.3" cy="346.6" r="2.4" fill="#FFE9A8"/>
<circle cx="73.9" cy="307.9" r="8.7" fill="url(#cu)" stroke="#9A5A14" stroke-width="0.7"/>
<circle cx="93.5" cy="307.9" r="8.7" fill="url(#cu)" stroke="#9A5A14" stroke-width="0.7"/>
<circle cx="113.1" cy="307.9" r="8.7" fill="url(#cu)" stroke="#9A5A14" stroke-width="0.7"/>
<circle cx="132.7" cy="307.9" r="8.7" fill="url(#cu)" stroke="#9A5A14" stroke-width="0.7"/>
<circle cx="83.6" cy="324.5" r="8.7" fill="url(#cu)" stroke="#9A5A14" stroke-width="0.7"/>
<circle cx="103.2" cy="324.5" r="8.7" fill="url(#cu)" stroke="#9A5A14" stroke-width="0.7"/>
<circle cx="122.8" cy="324.5" r="8.7" fill="url(#cu)" stroke="#9A5A14" stroke-width="0.7"/>
<circle cx="142.4" cy="324.5" r="8.7" fill="url(#cu)" stroke="#9A5A14" stroke-width="0.7"/>
<circle cx="93.3" cy="341.1" r="8.7" fill="url(#cu)" stroke="#9A5A14" stroke-width="0.7"/>
<circle cx="112.9" cy="341.1" r="8.7" fill="url(#cu)" stroke="#9A5A14" stroke-width="0.7"/>
<circle cx="132.5" cy="341.1" r="8.7" fill="url(#cu)" stroke="#9A5A14" stroke-width="0.7"/>
<circle cx="152.1" cy="341.1" r="8.7" fill="url(#cu)" stroke="#9A5A14" stroke-width="0.7"/>
<circle cx="103.0" cy="357.7" r="8.7" fill="url(#cu)" stroke="#9A5A14" stroke-width="0.7"/>
<circle cx="122.6" cy="357.7" r="8.7" fill="url(#cu)" stroke="#9A5A14" stroke-width="0.7"/>
<circle cx="142.2" cy="357.7" r="8.7" fill="url(#cu)" stroke="#9A5A14" stroke-width="0.7"/>
<circle cx="161.8" cy="357.7" r="8.7" fill="url(#cu)" stroke="#9A5A14" stroke-width="0.7"/>
<circle cx="125.4" cy="325.1" r="8.3" fill="url(#ga)" stroke="#6A9A58" stroke-width="0.5"/>
<circle cx="101.5" cy="324.8" r="4.3" fill="url(#ox)" stroke="#900" stroke-width="0.5"/>
<circle cx="110.5" cy="324.8" r="3.6" fill="url(#cc)" stroke="#402010" stroke-width="0.5"/>
<circle cx="119.0" cy="324.8" r="4.3" fill="url(#ox)" stroke="#900" stroke-width="0.5"/>
<circle cx="236.9" cy="297.0" r="8.8" fill="url(#cu)" stroke="#9A5A14" stroke-width="0.7"/>
<circle cx="256.5" cy="297.0" r="8.8" fill="url(#cu)" stroke="#9A5A14" stroke-width="0.7"/>
<circle cx="276.1" cy="297.0" r="8.8" fill="url(#cu)" stroke="#9A5A14" stroke-width="0.7"/>
<circle cx="295.7" cy="297.0" r="8.8" fill="url(#cu)" stroke="#9A5A14" stroke-width="0.7"/>
<circle cx="246.6" cy="313.6" r="8.8" fill="url(#cu)" stroke="#9A5A14" stroke-width="0.7"/>
<circle cx="266.2" cy="313.6" r="8.8" fill="url(#cu)" stroke="#9A5A14" stroke-width="0.7"/>
<circle cx="285.8" cy="313.6" r="8.8" fill="url(#cu)" stroke="#9A5A14" stroke-width="0.7"/>
<circle cx="305.4" cy="313.6" r="8.8" fill="url(#cu)" stroke="#9A5A14" stroke-width="0.7"/>
<circle cx="256.3" cy="330.2" r="8.8" fill="url(#cu)" stroke="#9A5A14" stroke-width="0.7"/>
<circle cx="275.9" cy="330.2" r="8.8" fill="url(#cu)" stroke="#9A5A14" stroke-width="0.7"/>
<circle cx="295.5" cy="330.2" r="8.8" fill="url(#cu)" stroke="#9A5A14" stroke-width="0.7"/>
<circle cx="315.1" cy="330.2" r="8.8" fill="url(#cu)" stroke="#9A5A14" stroke-width="0.7"/>
<circle cx="266.0" cy="346.8" r="8.8" fill="url(#cu)" stroke="#9A5A14" stroke-width="0.7"/>
<circle cx="285.6" cy="346.8" r="8.8" fill="url(#cu)" stroke="#9A5A14" stroke-width="0.7"/>
<circle cx="305.2" cy="346.8" r="8.8" fill="url(#cu)" stroke="#9A5A14" stroke-width="0.7"/>
<circle cx="324.8" cy="346.8" r="8.8" fill="url(#cu)" stroke="#9A5A14" stroke-width="0.7"/>
<circle cx="247.1" cy="303.0" r="8.8" fill="url(#cu)" stroke="#9A5A14" stroke-width="0.7"/>
<circle cx="266.7" cy="303.0" r="8.8" fill="url(#cu)" stroke="#9A5A14" stroke-width="0.7"/>
<circle cx="286.3" cy="303.0" r="8.8" fill="url(#cu)" stroke="#9A5A14" stroke-width="0.7"/>
<circle cx="305.9" cy="303.0" r="8.8" fill="url(#cu)" stroke="#9A5A14" stroke-width="0.7"/>
<circle cx="256.8" cy="319.6" r="8.8" fill="url(#cu)" stroke="#9A5A14" stroke-width="0.7"/>
<circle cx="276.4" cy="319.6" r="8.8" fill="url(#cu)" stroke="#9A5A14" stroke-width="0.7"/>
<circle cx="296.0" cy="319.6" r="8.8" fill="url(#cu)" stroke="#9A5A14" stroke-width="0.7"/>
<circle cx="315.6" cy="319.6" r="8.8" fill="url(#cu)" stroke="#9A5A14" stroke-width="0.7"/>
<circle cx="266.5" cy="336.2" r="8.8" fill="url(#cu)" stroke="#9A5A14" stroke-width="0.7"/>
<circle cx="286.1" cy="336.2" r="8.8" fill="url(#cu)" stroke="#9A5A14" stroke-width="0.7"/>
<circle cx="305.7" cy="336.2" r="8.8" fill="url(#cu)" stroke="#9A5A14" stroke-width="0.7"/>
<circle cx="325.3" cy="336.2" r="8.8" fill="url(#cu)" stroke="#9A5A14" stroke-width="0.7"/>
<circle cx="276.2" cy="352.8" r="8.8" fill="url(#cu)" stroke="#9A5A14" stroke-width="0.7"/>
<circle cx="295.8" cy="352.8" r="8.8" fill="url(#cu)" stroke="#9A5A14" stroke-width="0.7"/>
<circle cx="315.4" cy="352.8" r="8.8" fill="url(#cu)" stroke="#9A5A14" stroke-width="0.7"/>
<circle cx="335.0" cy="352.8" r="8.8" fill="url(#cu)" stroke="#9A5A14" stroke-width="0.7"/>
<circle cx="267.2" cy="314.5" r="2.4" fill="#FFE9A8"/>
<circle cx="286.8" cy="314.5" r="2.4" fill="#FFE9A8"/>
<circle cx="306.4" cy="314.5" r="2.4" fill="#FFE9A8"/>
<circle cx="276.9" cy="331.1" r="2.4" fill="#FFE9A8"/>
<circle cx="296.5" cy="331.1" r="2.4" fill="#FFE9A8"/>
<circle cx="316.1" cy="331.1" r="2.4" fill="#FFE9A8"/>
<circle cx="286.6" cy="347.7" r="2.4" fill="#FFE9A8"/>
<circle cx="306.2" cy="347.7" r="2.4" fill="#FFE9A8"/>
<circle cx="325.8" cy="347.7" r="2.4" fill="#FFE9A8"/>
<circle cx="257.4" cy="309.0" r="8.7" fill="url(#cu)" stroke="#9A5A14" stroke-width="0.7"/>
<circle cx="277.0" cy="309.0" r="8.7" fill="url(#cu)" stroke="#9A5A14" stroke-width="0.7"/>
<circle cx="296.6" cy="309.0" r="8.7" fill="url(#cu)" stroke="#9A5A14" stroke-width="0.7"/>
<circle cx="316.2" cy="309.0" r="8.7" fill="url(#cu)" stroke="#9A5A14" stroke-width="0.7"/>
<circle cx="267.1" cy="325.6" r="8.7" fill="url(#cu)" stroke="#9A5A14" stroke-width="0.7"/>
<circle cx="286.7" cy="325.6" r="8.7" fill="url(#cu)" stroke="#9A5A14" stroke-width="0.7"/>
<circle cx="306.3" cy="325.6" r="8.7" fill="url(#cu)" stroke="#9A5A14" stroke-width="0.7"/>
<circle cx="325.9" cy="325.6" r="8.7" fill="url(#cu)" stroke="#9A5A14" stroke-width="0.7"/>
<circle cx="276.8" cy="342.2" r="8.7" fill="url(#cu)" stroke="#9A5A14" stroke-width="0.7"/>
<circle cx="296.4" cy="342.2" r="8.7" fill="url(#cu)" stroke="#9A5A14" stroke-width="0.7"/>
<circle cx="316.0" cy="342.2" r="8.7" fill="url(#cu)" stroke="#9A5A14" stroke-width="0.7"/>
<circle cx="335.6" cy="342.2" r="8.7" fill="url(#cu)" stroke="#9A5A14" stroke-width="0.7"/>
<circle cx="286.5" cy="358.8" r="8.7" fill="url(#cu)" stroke="#9A5A14" stroke-width="0.7"/>
<circle cx="306.1" cy="358.8" r="8.7" fill="url(#cu)" stroke="#9A5A14" stroke-width="0.7"/>
<circle cx="325.7" cy="358.8" r="8.7" fill="url(#cu)" stroke="#9A5A14" stroke-width="0.7"/>
<circle cx="345.3" cy="358.8" r="8.7" fill="url(#cu)" stroke="#9A5A14" stroke-width="0.7"/>
<circle cx="306.9" cy="326.5" r="8.3" fill="url(#ga)" stroke="#6A9A58" stroke-width="0.5"/>
<circle cx="285.3" cy="325.2" r="4.2" fill="url(#ox)" stroke="#900" stroke-width="0.5"/>
<circle cx="292.0" cy="325.7" r="3.4" fill="url(#cc)" stroke="#402010" stroke-width="0.5"/>
<circle cx="289.2" cy="324.6" r="2.8" fill="url(#hh)" stroke="#A08080" stroke-width="0.5"/>
<circle cx="301.4" cy="324.6" r="4.1" fill="url(#ox)" stroke="#900" stroke-width="0.5"/>
<circle cx="433.5" cy="296.8" r="8.8" fill="url(#cu)" stroke="#9A5A14" stroke-width="0.7"/>
<circle cx="453.1" cy="296.8" r="8.8" fill="url(#cu)" stroke="#9A5A14" stroke-width="0.7"/>
<circle cx="472.7" cy="296.8" r="8.8" fill="url(#cu)" stroke="#9A5A14" stroke-width="0.7"/>
<circle cx="492.3" cy="296.8" r="8.8" fill="url(#cu)" stroke="#9A5A14" stroke-width="0.7"/>
<circle cx="443.2" cy="313.4" r="8.8" fill="url(#cu)" stroke="#9A5A14" stroke-width="0.7"/>
<circle cx="462.8" cy="313.4" r="8.8" fill="url(#cu)" stroke="#9A5A14" stroke-width="0.7"/>
<circle cx="482.4" cy="313.4" r="8.8" fill="url(#cu)" stroke="#9A5A14" stroke-width="0.7"/>
<circle cx="502.0" cy="313.4" r="8.8" fill="url(#cu)" stroke="#9A5A14" stroke-width="0.7"/>
<circle cx="452.9" cy="330.0" r="8.8" fill="url(#cu)" stroke="#9A5A14" stroke-width="0.7"/>
<circle cx="472.5" cy="330.0" r="8.8" fill="url(#cu)" stroke="#9A5A14" stroke-width="0.7"/>
<circle cx="492.1" cy="330.0" r="8.8" fill="url(#cu)" stroke="#9A5A14" stroke-width="0.7"/>
<circle cx="511.7" cy="330.0" r="8.8" fill="url(#cu)" stroke="#9A5A14" stroke-width="0.7"/>
<circle cx="462.6" cy="346.6" r="8.8" fill="url(#cu)" stroke="#9A5A14" stroke-width="0.7"/>
<circle cx="482.2" cy="346.6" r="8.8" fill="url(#cu)" stroke="#9A5A14" stroke-width="0.7"/>
<circle cx="501.8" cy="346.6" r="8.8" fill="url(#cu)" stroke="#9A5A14" stroke-width="0.7"/>
<circle cx="521.4" cy="346.6" r="8.8" fill="url(#cu)" stroke="#9A5A14" stroke-width="0.7"/>
<circle cx="443.7" cy="302.8" r="8.8" fill="url(#cu)" stroke="#9A5A14" stroke-width="0.7"/>
<circle cx="463.3" cy="302.8" r="8.8" fill="url(#cu)" stroke="#9A5A14" stroke-width="0.7"/>
<circle cx="482.9" cy="302.8" r="8.8" fill="url(#cu)" stroke="#9A5A14" stroke-width="0.7"/>
<circle cx="502.5" cy="302.8" r="8.8" fill="url(#cu)" stroke="#9A5A14" stroke-width="0.7"/>
<circle cx="453.4" cy="319.4" r="8.8" fill="url(#cu)" stroke="#9A5A14" stroke-width="0.7"/>
<circle cx="473.0" cy="319.4" r="8.8" fill="url(#cu)" stroke="#9A5A14" stroke-width="0.7"/>
<circle cx="492.6" cy="319.4" r="8.8" fill="url(#cu)" stroke="#9A5A14" stroke-width="0.7"/>
<circle cx="512.2" cy="319.4" r="8.8" fill="url(#cu)" stroke="#9A5A14" stroke-width="0.7"/>
<circle cx="463.1" cy="336.0" r="8.8" fill="url(#cu)" stroke="#9A5A14" stroke-width="0.7"/>
<circle cx="482.7" cy="336.0" r="8.8" fill="url(#cu)" stroke="#9A5A14" stroke-width="0.7"/>
<circle cx="502.3" cy="336.0" r="8.8" fill="url(#cu)" stroke="#9A5A14" stroke-width="0.7"/>
<circle cx="521.9" cy="336.0" r="8.8" fill="url(#cu)" stroke="#9A5A14" stroke-width="0.7"/>
<circle cx="472.8" cy="352.6" r="8.8" fill="url(#cu)" stroke="#9A5A14" stroke-width="0.7"/>
<circle cx="492.4" cy="352.6" r="8.8" fill="url(#cu)" stroke="#9A5A14" stroke-width="0.7"/>
<circle cx="512.0" cy="352.6" r="8.8" fill="url(#cu)" stroke="#9A5A14" stroke-width="0.7"/>
<circle cx="531.6" cy="352.6" r="8.8" fill="url(#cu)" stroke="#9A5A14" stroke-width="0.7"/>
<circle cx="463.8" cy="314.3" r="2.4" fill="#FFE9A8"/>
<circle cx="483.4" cy="314.3" r="2.4" fill="#FFE9A8"/>
<circle cx="503.0" cy="314.3" r="2.4" fill="#FFE9A8"/>
<circle cx="473.5" cy="330.9" r="2.4" fill="#FFE9A8"/>
<circle cx="493.1" cy="330.9" r="2.4" fill="#FFE9A8"/>
<circle cx="512.7" cy="330.9" r="2.4" fill="#FFE9A8"/>
<circle cx="483.2" cy="347.5" r="2.4" fill="#FFE9A8"/>
<circle cx="502.8" cy="347.5" r="2.4" fill="#FFE9A8"/>
<circle cx="522.4" cy="347.5" r="2.4" fill="#FFE9A8"/>
<circle cx="454.0" cy="308.8" r="8.7" fill="url(#cu)" stroke="#9A5A14" stroke-width="0.7"/>
<circle cx="473.6" cy="308.8" r="8.7" fill="url(#cu)" stroke="#9A5A14" stroke-width="0.7"/>
<circle cx="493.2" cy="308.8" r="8.7" fill="url(#cu)" stroke="#9A5A14" stroke-width="0.7"/>
<circle cx="512.8" cy="308.8" r="8.7" fill="url(#cu)" stroke="#9A5A14" stroke-width="0.7"/>
<circle cx="463.7" cy="325.4" r="8.7" fill="url(#cu)" stroke="#9A5A14" stroke-width="0.7"/>
<circle cx="483.3" cy="325.4" r="8.7" fill="url(#cu)" stroke="#9A5A14" stroke-width="0.7"/>
<circle cx="502.9" cy="325.4" r="8.7" fill="url(#cu)" stroke="#9A5A14" stroke-width="0.7"/>
<circle cx="522.5" cy="325.4" r="8.7" fill="url(#cu)" stroke="#9A5A14" stroke-width="0.7"/>
<circle cx="473.4" cy="342.0" r="8.7" fill="url(#cu)" stroke="#9A5A14" stroke-width="0.7"/>
<circle cx="493.0" cy="342.0" r="8.7" fill="url(#cu)" stroke="#9A5A14" stroke-width="0.7"/>
<circle cx="512.6" cy="342.0" r="8.7" fill="url(#cu)" stroke="#9A5A14" stroke-width="0.7"/>
<circle cx="532.2" cy="342.0" r="8.7" fill="url(#cu)" stroke="#9A5A14" stroke-width="0.7"/>
<circle cx="483.1" cy="358.6" r="8.7" fill="url(#cu)" stroke="#9A5A14" stroke-width="0.7"/>
<circle cx="502.7" cy="358.6" r="8.7" fill="url(#cu)" stroke="#9A5A14" stroke-width="0.7"/>
<circle cx="522.3" cy="358.6" r="8.7" fill="url(#cu)" stroke="#9A5A14" stroke-width="0.7"/>
<circle cx="541.9" cy="358.6" r="8.7" fill="url(#cu)" stroke="#9A5A14" stroke-width="0.7"/>
<circle cx="502.4" cy="324.4" r="8.3" fill="url(#ga)" stroke="#6A9A58" stroke-width="0.5"/>
<circle cx="502.4" cy="323.4" r="4.4" fill="url(#ox)" stroke="#900" stroke-width="0.5"/>
<circle cx="435.7" cy="436.8" r="8.8" fill="url(#cu)" stroke="#9A5A14" stroke-width="0.7"/>
<circle cx="455.3" cy="436.8" r="8.8" fill="url(#cu)" stroke="#9A5A14" stroke-width="0.7"/>
<circle cx="474.9" cy="436.8" r="8.8" fill="url(#cu)" stroke="#9A5A14" stroke-width="0.7"/>
<circle cx="494.5" cy="436.8" r="8.8" fill="url(#cu)" stroke="#9A5A14" stroke-width="0.7"/>
<circle cx="445.4" cy="453.4" r="8.8" fill="url(#cu)" stroke="#9A5A14" stroke-width="0.7"/>
<circle cx="465.0" cy="453.4" r="8.8" fill="url(#cu)" stroke="#9A5A14" stroke-width="0.7"/>
<circle cx="484.6" cy="453.4" r="8.8" fill="url(#cu)" stroke="#9A5A14" stroke-width="0.7"/>
<circle cx="504.2" cy="453.4" r="8.8" fill="url(#cu)" stroke="#9A5A14" stroke-width="0.7"/>
<circle cx="455.1" cy="470.0" r="8.8" fill="url(#cu)" stroke="#9A5A14" stroke-width="0.7"/>
<circle cx="474.7" cy="470.0" r="8.8" fill="url(#cu)" stroke="#9A5A14" stroke-width="0.7"/>
<circle cx="494.3" cy="470.0" r="8.8" fill="url(#cu)" stroke="#9A5A14" stroke-width="0.7"/>
<circle cx="513.9" cy="470.0" r="8.8" fill="url(#cu)" stroke="#9A5A14" stroke-width="0.7"/>
<circle cx="464.8" cy="486.6" r="8.8" fill="url(#cu)" stroke="#9A5A14" stroke-width="0.7"/>
<circle cx="484.4" cy="486.6" r="8.8" fill="url(#cu)" stroke="#9A5A14" stroke-width="0.7"/>
<circle cx="504.0" cy="486.6" r="8.8" fill="url(#cu)" stroke="#9A5A14" stroke-width="0.7"/>
<circle cx="523.6" cy="486.6" r="8.8" fill="url(#cu)" stroke="#9A5A14" stroke-width="0.7"/>
<circle cx="445.9" cy="442.8" r="8.8" fill="url(#cu)" stroke="#9A5A14" stroke-width="0.7"/>
<circle cx="465.5" cy="442.8" r="8.8" fill="url(#cu)" stroke="#9A5A14" stroke-width="0.7"/>
<circle cx="485.1" cy="442.8" r="8.8" fill="url(#cu)" stroke="#9A5A14" stroke-width="0.7"/>
<circle cx="504.7" cy="442.8" r="8.8" fill="url(#cu)" stroke="#9A5A14" stroke-width="0.7"/>
<circle cx="455.6" cy="459.4" r="8.8" fill="url(#cu)" stroke="#9A5A14" stroke-width="0.7"/>
<circle cx="475.2" cy="459.4" r="8.8" fill="url(#cu)" stroke="#9A5A14" stroke-width="0.7"/>
<circle cx="494.8" cy="459.4" r="8.8" fill="url(#cu)" stroke="#9A5A14" stroke-width="0.7"/>
<circle cx="514.4" cy="459.4" r="8.8" fill="url(#cu)" stroke="#9A5A14" stroke-width="0.7"/>
<circle cx="465.3" cy="476.0" r="8.8" fill="url(#cu)" stroke="#9A5A14" stroke-width="0.7"/>
<circle cx="484.9" cy="476.0" r="8.8" fill="url(#cu)" stroke="#9A5A14" stroke-width="0.7"/>
<circle cx="504.5" cy="476.0" r="8.8" fill="url(#cu)" stroke="#9A5A14" stroke-width="0.7"/>
<circle cx="524.1" cy="476.0" r="8.8" fill="url(#cu)" stroke="#9A5A14" stroke-width="0.7"/>
<circle cx="475.0" cy="492.6" r="8.8" fill="url(#cu)" stroke="#9A5A14" stroke-width="0.7"/>
<circle cx="494.6" cy="492.6" r="8.8" fill="url(#cu)" stroke="#9A5A14" stroke-width="0.7"/>
<circle cx="514.2" cy="492.6" r="8.8" fill="url(#cu)" stroke="#9A5A14" stroke-width="0.7"/>
<circle cx="533.8" cy="492.6" r="8.8" fill="url(#cu)" stroke="#9A5A14" stroke-width="0.7"/>
<circle cx="466.0" cy="454.3" r="2.4" fill="#FFE9A8"/>
<circle cx="485.6" cy="454.3" r="2.4" fill="#FFE9A8"/>
<circle cx="505.2" cy="454.3" r="2.4" fill="#FFE9A8"/>
<circle cx="475.7" cy="470.9" r="2.4" fill="#FFE9A8"/>
<circle cx="495.3" cy="470.9" r="2.4" fill="#FFE9A8"/>
<circle cx="514.9" cy="470.9" r="2.4" fill="#FFE9A8"/>
<circle cx="485.4" cy="487.5" r="2.4" fill="#FFE9A8"/>
<circle cx="505.0" cy="487.5" r="2.4" fill="#FFE9A8"/>
<circle cx="524.6" cy="487.5" r="2.4" fill="#FFE9A8"/>
<circle cx="456.2" cy="448.8" r="8.7" fill="url(#cu)" stroke="#9A5A14" stroke-width="0.7"/>
<circle cx="475.8" cy="448.8" r="8.7" fill="url(#cu)" stroke="#9A5A14" stroke-width="0.7"/>
<circle cx="495.4" cy="448.8" r="8.7" fill="url(#cu)" stroke="#9A5A14" stroke-width="0.7"/>
<circle cx="515.0" cy="448.8" r="8.7" fill="url(#cu)" stroke="#9A5A14" stroke-width="0.7"/>
<circle cx="465.9" cy="465.4" r="8.7" fill="url(#cu)" stroke="#9A5A14" stroke-width="0.7"/>
<circle cx="485.5" cy="465.4" r="8.7" fill="url(#cu)" stroke="#9A5A14" stroke-width="0.7"/>
<circle cx="505.1" cy="465.4" r="8.7" fill="url(#cu)" stroke="#9A5A14" stroke-width="0.7"/>
<circle cx="524.7" cy="465.4" r="8.7" fill="url(#cu)" stroke="#9A5A14" stroke-width="0.7"/>
<circle cx="475.6" cy="482.0" r="8.7" fill="url(#cu)" stroke="#9A5A14" stroke-width="0.7"/>
<circle cx="495.2" cy="482.0" r="8.7" fill="url(#cu)" stroke="#9A5A14" stroke-width="0.7"/>
<circle cx="514.8" cy="482.0" r="8.7" fill="url(#cu)" stroke="#9A5A14" stroke-width="0.7"/>
<circle cx="534.4" cy="482.0" r="8.7" fill="url(#cu)" stroke="#9A5A14" stroke-width="0.7"/>
<circle cx="485.3" cy="498.6" r="8.7" fill="url(#cu)" stroke="#9A5A14" stroke-width="0.7"/>
<circle cx="504.9" cy="498.6" r="8.7" fill="url(#cu)" stroke="#9A5A14" stroke-width="0.7"/>
<circle cx="524.5" cy="498.6" r="8.7" fill="url(#cu)" stroke="#9A5A14" stroke-width="0.7"/>
<circle cx="544.1" cy="498.6" r="8.7" fill="url(#cu)" stroke="#9A5A14" stroke-width="0.7"/>
<circle cx="503.9" cy="465.2" r="8.3" fill="url(#ga)" stroke="#6A9A58" stroke-width="0.5"/>
<circle cx="480.8" cy="464.9" r="4.4" fill="url(#ox)" stroke="#900" stroke-width="0.5"/>
<circle cx="506.1" cy="464.4" r="4.4" fill="url(#ox)" stroke="#900" stroke-width="0.5"/>
<circle cx="238.0" cy="436.1" r="8.8" fill="url(#cu)" stroke="#9A5A14" stroke-width="0.7"/>
<circle cx="257.6" cy="436.1" r="8.8" fill="url(#cu)" stroke="#9A5A14" stroke-width="0.7"/>
<circle cx="277.2" cy="436.1" r="8.8" fill="url(#cu)" stroke="#9A5A14" stroke-width="0.7"/>
<circle cx="296.8" cy="436.1" r="8.8" fill="url(#cu)" stroke="#9A5A14" stroke-width="0.7"/>
<circle cx="247.7" cy="452.7" r="8.8" fill="url(#cu)" stroke="#9A5A14" stroke-width="0.7"/>
<circle cx="267.3" cy="452.7" r="8.8" fill="url(#cu)" stroke="#9A5A14" stroke-width="0.7"/>
<circle cx="286.9" cy="452.7" r="8.8" fill="url(#cu)" stroke="#9A5A14" stroke-width="0.7"/>
<circle cx="306.5" cy="452.7" r="8.8" fill="url(#cu)" stroke="#9A5A14" stroke-width="0.7"/>
<circle cx="257.4" cy="469.3" r="8.8" fill="url(#cu)" stroke="#9A5A14" stroke-width="0.7"/>
<circle cx="277.0" cy="469.3" r="8.8" fill="url(#cu)" stroke="#9A5A14" stroke-width="0.7"/>
<circle cx="296.6" cy="469.3" r="8.8" fill="url(#cu)" stroke="#9A5A14" stroke-width="0.7"/>
<circle cx="316.2" cy="469.3" r="8.8" fill="url(#cu)" stroke="#9A5A14" stroke-width="0.7"/>
<circle cx="267.1" cy="485.9" r="8.8" fill="url(#cu)" stroke="#9A5A14" stroke-width="0.7"/>
<circle cx="286.7" cy="485.9" r="8.8" fill="url(#cu)" stroke="#9A5A14" stroke-width="0.7"/>
<circle cx="306.3" cy="485.9" r="8.8" fill="url(#cu)" stroke="#9A5A14" stroke-width="0.7"/>
<circle cx="325.9" cy="485.9" r="8.8" fill="url(#cu)" stroke="#9A5A14" stroke-width="0.7"/>
<circle cx="248.2" cy="442.1" r="8.8" fill="url(#cu)" stroke="#9A5A14" stroke-width="0.7"/>
<circle cx="267.8" cy="442.1" r="8.8" fill="url(#cu)" stroke="#9A5A14" stroke-width="0.7"/>
<circle cx="287.4" cy="442.1" r="8.8" fill="url(#cu)" stroke="#9A5A14" stroke-width="0.7"/>
<circle cx="307.0" cy="442.1" r="8.8" fill="url(#cu)" stroke="#9A5A14" stroke-width="0.7"/>
<circle cx="257.9" cy="458.7" r="8.8" fill="url(#cu)" stroke="#9A5A14" stroke-width="0.7"/>
<circle cx="277.5" cy="458.7" r="8.8" fill="url(#cu)" stroke="#9A5A14" stroke-width="0.7"/>
<circle cx="297.1" cy="458.7" r="8.8" fill="url(#cu)" stroke="#9A5A14" stroke-width="0.7"/>
<circle cx="316.7" cy="458.7" r="8.8" fill="url(#cu)" stroke="#9A5A14" stroke-width="0.7"/>
<circle cx="267.6" cy="475.3" r="8.8" fill="url(#cu)" stroke="#9A5A14" stroke-width="0.7"/>
<circle cx="287.2" cy="475.3" r="8.8" fill="url(#cu)" stroke="#9A5A14" stroke-width="0.7"/>
<circle cx="306.8" cy="475.3" r="8.8" fill="url(#cu)" stroke="#9A5A14" stroke-width="0.7"/>
<circle cx="326.4" cy="475.3" r="8.8" fill="url(#cu)" stroke="#9A5A14" stroke-width="0.7"/>
<circle cx="277.3" cy="491.9" r="8.8" fill="url(#cu)" stroke="#9A5A14" stroke-width="0.7"/>
<circle cx="296.9" cy="491.9" r="8.8" fill="url(#cu)" stroke="#9A5A14" stroke-width="0.7"/>
<circle cx="316.5" cy="491.9" r="8.8" fill="url(#cu)" stroke="#9A5A14" stroke-width="0.7"/>
<circle cx="336.1" cy="491.9" r="8.8" fill="url(#cu)" stroke="#9A5A14" stroke-width="0.7"/>
<circle cx="268.3" cy="453.6" r="2.4" fill="#FFE9A8"/>
<circle cx="287.9" cy="453.6" r="2.4" fill="#FFE9A8"/>
<circle cx="307.5" cy="453.6" r="2.4" fill="#FFE9A8"/>
<circle cx="278.0" cy="470.2" r="2.4" fill="#FFE9A8"/>
<circle cx="297.6" cy="470.2" r="2.4" fill="#FFE9A8"/>
<circle cx="317.2" cy="470.2" r="2.4" fill="#FFE9A8"/>
<circle cx="287.7" cy="486.8" r="2.4" fill="#FFE9A8"/>
<circle cx="307.3" cy="486.8" r="2.4" fill="#FFE9A8"/>
<circle cx="326.9" cy="486.8" r="2.4" fill="#FFE9A8"/>
<circle cx="258.5" cy="448.1" r="8.7" fill="url(#cu)" stroke="#9A5A14" stroke-width="0.7"/>
<circle cx="278.1" cy="448.1" r="8.7" fill="url(#cu)" stroke="#9A5A14" stroke-width="0.7"/>
<circle cx="297.7" cy="448.1" r="8.7" fill="url(#cu)" stroke="#9A5A14" stroke-width="0.7"/>
<circle cx="317.3" cy="448.1" r="8.7" fill="url(#cu)" stroke="#9A5A14" stroke-width="0.7"/>
<circle cx="268.2" cy="464.7" r="8.7" fill="url(#cu)" stroke="#9A5A14" stroke-width="0.7"/>
<circle cx="287.8" cy="464.7" r="8.7" fill="url(#cu)" stroke="#9A5A14" stroke-width="0.7"/>
<circle cx="307.4" cy="464.7" r="8.7" fill="url(#cu)" stroke="#9A5A14" stroke-width="0.7"/>
<circle cx="327.0" cy="464.7" r="8.7" fill="url(#cu)" stroke="#9A5A14" stroke-width="0.7"/>
<circle cx="277.9" cy="481.3" r="8.7" fill="url(#cu)" stroke="#9A5A14" stroke-width="0.7"/>
<circle cx="297.5" cy="481.3" r="8.7" fill="url(#cu)" stroke="#9A5A14" stroke-width="0.7"/>
<circle cx="317.1" cy="481.3" r="8.7" fill="url(#cu)" stroke="#9A5A14" stroke-width="0.7"/>
<circle cx="336.7" cy="481.3" r="8.7" fill="url(#cu)" stroke="#9A5A14" stroke-width="0.7"/>
<circle cx="287.6" cy="497.9" r="8.7" fill="url(#cu)" stroke="#9A5A14" stroke-width="0.7"/>
<circle cx="307.2" cy="497.9" r="8.7" fill="url(#cu)" stroke="#9A5A14" stroke-width="0.7"/>
<circle cx="326.8" cy="497.9" r="8.7" fill="url(#cu)" stroke="#9A5A14" stroke-width="0.7"/>
<circle cx="346.4" cy="497.9" r="8.7" fill="url(#cu)" stroke="#9A5A14" stroke-width="0.7"/>
<circle cx="310.6" cy="469.1" r="7.6" fill="url(#ga)" stroke="#6A9A58" stroke-width="0.5"/>
<circle cx="292.7" cy="464.0" r="4.5" fill="url(#ox)" stroke="#900" stroke-width="0.5"/>
<circle cx="304.6" cy="464.4" r="4.2" fill="url(#cc)" stroke="#402010" stroke-width="0.5"/>
<circle cx="312.8" cy="462.2" r="4.5" fill="url(#ox)" stroke="#900" stroke-width="0.5"/>
<circle cx="55.7" cy="435.3" r="8.8" fill="url(#cu)" stroke="#9A5A14" stroke-width="0.7"/>
<circle cx="75.3" cy="435.3" r="8.8" fill="url(#cu)" stroke="#9A5A14" stroke-width="0.7"/>
<circle cx="94.9" cy="435.3" r="8.8" fill="url(#cu)" stroke="#9A5A14" stroke-width="0.7"/>
<circle cx="114.5" cy="435.3" r="8.8" fill="url(#cu)" stroke="#9A5A14" stroke-width="0.7"/>
<circle cx="65.4" cy="451.9" r="8.8" fill="url(#cu)" stroke="#9A5A14" stroke-width="0.7"/>
<circle cx="85.0" cy="451.9" r="8.8" fill="url(#cu)" stroke="#9A5A14" stroke-width="0.7"/>
<circle cx="104.6" cy="451.9" r="8.8" fill="url(#cu)" stroke="#9A5A14" stroke-width="0.7"/>
<circle cx="124.2" cy="451.9" r="8.8" fill="url(#cu)" stroke="#9A5A14" stroke-width="0.7"/>
<circle cx="75.1" cy="468.5" r="8.8" fill="url(#cu)" stroke="#9A5A14" stroke-width="0.7"/>
<circle cx="94.7" cy="468.5" r="8.8" fill="url(#cu)" stroke="#9A5A14" stroke-width="0.7"/>
<circle cx="114.3" cy="468.5" r="8.8" fill="url(#cu)" stroke="#9A5A14" stroke-width="0.7"/>
<circle cx="133.9" cy="468.5" r="8.8" fill="url(#cu)" stroke="#9A5A14" stroke-width="0.7"/>
<circle cx="84.8" cy="485.1" r="8.8" fill="url(#cu)" stroke="#9A5A14" stroke-width="0.7"/>
<circle cx="104.4" cy="485.1" r="8.8" fill="url(#cu)" stroke="#9A5A14" stroke-width="0.7"/>
<circle cx="124.0" cy="485.1" r="8.8" fill="url(#cu)" stroke="#9A5A14" stroke-width="0.7"/>
<circle cx="143.6" cy="485.1" r="8.8" fill="url(#cu)" stroke="#9A5A14" stroke-width="0.7"/>
<circle cx="65.9" cy="441.3" r="8.8" fill="url(#cu)" stroke="#9A5A14" stroke-width="0.7"/>
<circle cx="85.5" cy="441.3" r="8.8" fill="url(#cu)" stroke="#9A5A14" stroke-width="0.7"/>
<circle cx="105.1" cy="441.3" r="8.8" fill="url(#cu)" stroke="#9A5A14" stroke-width="0.7"/>
<circle cx="124.7" cy="441.3" r="8.8" fill="url(#cu)" stroke="#9A5A14" stroke-width="0.7"/>
<circle cx="75.6" cy="457.9" r="8.8" fill="url(#cu)" stroke="#9A5A14" stroke-width="0.7"/>
<circle cx="95.2" cy="457.9" r="8.8" fill="url(#cu)" stroke="#9A5A14" stroke-width="0.7"/>
<circle cx="114.8" cy="457.9" r="8.8" fill="url(#cu)" stroke="#9A5A14" stroke-width="0.7"/>
<circle cx="134.4" cy="457.9" r="8.8" fill="url(#cu)" stroke="#9A5A14" stroke-width="0.7"/>
<circle cx="85.3" cy="474.5" r="8.8" fill="url(#cu)" stroke="#9A5A14" stroke-width="0.7"/>
<circle cx="104.9" cy="474.5" r="8.8" fill="url(#cu)" stroke="#9A5A14" stroke-width="0.7"/>
<circle cx="124.5" cy="474.5" r="8.8" fill="url(#cu)" stroke="#9A5A14" stroke-width="0.7"/>
<circle cx="144.1" cy="474.5" r="8.8" fill="url(#cu)" stroke="#9A5A14" stroke-width="0.7"/>
<circle cx="95.0" cy="491.1" r="8.8" fill="url(#cu)" stroke="#9A5A14" stroke-width="0.7"/>
<circle cx="114.6" cy="491.1" r="8.8" fill="url(#cu)" stroke="#9A5A14" stroke-width="0.7"/>
<circle cx="134.2" cy="491.1" r="8.8" fill="url(#cu)" stroke="#9A5A14" stroke-width="0.7"/>
<circle cx="153.8" cy="491.1" r="8.8" fill="url(#cu)" stroke="#9A5A14" stroke-width="0.7"/>
<circle cx="86.0" cy="452.8" r="2.4" fill="#FFE9A8"/>
<circle cx="105.6" cy="452.8" r="2.4" fill="#FFE9A8"/>
<circle cx="125.2" cy="452.8" r="2.4" fill="#FFE9A8"/>
<circle cx="95.7" cy="469.4" r="2.4" fill="#FFE9A8"/>
<circle cx="115.3" cy="469.4" r="2.4" fill="#FFE9A8"/>
<circle cx="134.9" cy="469.4" r="2.4" fill="#FFE9A8"/>
<circle cx="105.4" cy="486.0" r="2.4" fill="#FFE9A8"/>
<circle cx="125.0" cy="486.0" r="2.4" fill="#FFE9A8"/>
<circle cx="144.6" cy="486.0" r="2.4" fill="#FFE9A8"/>
<circle cx="76.2" cy="447.3" r="8.7" fill="url(#cu)" stroke="#9A5A14" stroke-width="0.7"/>
<circle cx="95.8" cy="447.3" r="8.7" fill="url(#cu)" stroke="#9A5A14" stroke-width="0.7"/>
<circle cx="115.4" cy="447.3" r="8.7" fill="url(#cu)" stroke="#9A5A14" stroke-width="0.7"/>
<circle cx="135.0" cy="447.3" r="8.7" fill="url(#cu)" stroke="#9A5A14" stroke-width="0.7"/>
<circle cx="85.9" cy="463.9" r="8.7" fill="url(#cu)" stroke="#9A5A14" stroke-width="0.7"/>
<circle cx="105.5" cy="463.9" r="8.7" fill="url(#cu)" stroke="#9A5A14" stroke-width="0.7"/>
<circle cx="125.1" cy="463.9" r="8.7" fill="url(#cu)" stroke="#9A5A14" stroke-width="0.7"/>
<circle cx="144.7" cy="463.9" r="8.7" fill="url(#cu)" stroke="#9A5A14" stroke-width="0.7"/>
<circle cx="95.6" cy="480.5" r="8.7" fill="url(#cu)" stroke="#9A5A14" stroke-width="0.7"/>
<circle cx="115.2" cy="480.5" r="8.7" fill="url(#cu)" stroke="#9A5A14" stroke-width="0.7"/>
<circle cx="134.8" cy="480.5" r="8.7" fill="url(#cu)" stroke="#9A5A14" stroke-width="0.7"/>
<circle cx="154.4" cy="480.5" r="8.7" fill="url(#cu)" stroke="#9A5A14" stroke-width="0.7"/>
<circle cx="105.3" cy="497.1" r="8.7" fill="url(#cu)" stroke="#9A5A14" stroke-width="0.7"/>
<circle cx="124.9" cy="497.1" r="8.7" fill="url(#cu)" stroke="#9A5A14" stroke-width="0.7"/>
<circle cx="144.5" cy="497.1" r="8.7" fill="url(#cu)" stroke="#9A5A14" stroke-width="0.7"/>
<circle cx="164.1" cy="497.1" r="8.7" fill="url(#cu)" stroke="#9A5A14" stroke-width="0.7"/>
<circle cx="127.6" cy="465.2" r="8.3" fill="url(#ga)" stroke="#6A9A58" stroke-width="0.5"/>
<circle cx="103.0" cy="464.4" r="4.4" fill="url(#ox)" stroke="#900" stroke-width="0.5"/>
<circle cx="109.0" cy="464.4" r="3.6" fill="url(#cc)" stroke="#402010" stroke-width="0.5"/>
<circle cx="119.4" cy="464.0" r="3.6" fill="url(#cc)" stroke="#402010" stroke-width="0.5"/>
<circle cx="126.1" cy="462.9" r="4.4" fill="url(#ox)" stroke="#900" stroke-width="0.5"/>
<rect x="174" y="331.5" width="42.80000000000001" height="3" fill="url(#arR)"/>
<polyline points="207.8,327.8 217.8,333 207.8,338.2" fill="none" stroke="#F0A818" stroke-width="2.6" stroke-linejoin="miter"/>
<rect x="367.2" y="331.1" width="43.80000000000001" height="3" fill="url(#arR)"/>
<polyline points="402,327.40000000000003 412,332.6 402,337.8" fill="none" stroke="#F0A818" stroke-width="2.6" stroke-linejoin="miter"/>
<rect x="481.4" y="378.2" width="3" height="33" fill="url(#arD)"/>
<polyline points="477.2,405 482.9,413.5 488.6,405" fill="none" stroke="#F09818" stroke-width="2.6"/>
<rect x="372.7" y="470.6" width="43.0" height="3" fill="url(#arL)"/>
<polyline points="381.7,466.90000000000003 371.7,472.1 381.7,477.3" fill="none" stroke="#F0A818" stroke-width="2.6" stroke-linejoin="miter"/>
<rect x="193.4" y="474.3" width="42.5" height="3" fill="url(#arL)"/>
<polyline points="202.4,470.6 192.4,475.8 202.4,481.0" fill="none" stroke="#F0A818" stroke-width="2.6" stroke-linejoin="miter"/>
<text x="97.0" y="393.7" font-family="Liberation Sans" font-size="18.5" fill="#000" text-anchor="start" >*CO<tspan font-size="12" dy="5">2</tspan></text>
<text x="311.0" y="392.0" font-family="Liberation Sans" font-size="19" fill="#000" text-anchor="middle" >*COOH</text>
<text x="521.0" y="393.5" font-family="Liberation Sans" font-size="18.5" fill="#000" text-anchor="middle" >*CO</text>
<text x="510.5" y="532.0" font-family="Liberation Sans" font-size="19.3" fill="#000" text-anchor="middle" >2*CO</text>
<text x="315.5" y="532.0" font-family="Liberation Sans" font-size="18.5" fill="#000" text-anchor="middle" >TS</text>
<text x="130.0" y="533.3" font-family="Liberation Sans" font-size="18.5" fill="#000" text-anchor="middle" >*OCCO</text>
<circle cx="605.7" cy="320.0" r="7.6" fill="url(#cu)" stroke="#9A5A14" stroke-width="0.5"/>
<text x="605.5" y="348.0" font-family="Liberation Sans" font-size="18.5" fill="#000" text-anchor="middle" >Cu</text>
<circle cx="605.7" cy="369.0" r="7.6" fill="url(#ga)" stroke="#6A9A58" stroke-width="0.5"/>
<text x="605.5" y="396.5" font-family="Liberation Sans" font-size="18.5" fill="#000" text-anchor="middle" >Ga</text>
<circle cx="607.2" cy="414.5" r="5.6" fill="url(#cc)" stroke="#503018" stroke-width="0.5"/>
<text x="607.0" y="438.5" font-family="Liberation Sans" font-size="18" fill="#000" text-anchor="middle" >C</text>
<circle cx="607.2" cy="452.9" r="4.8" fill="url(#ox)" stroke="#900" stroke-width="0.5"/>
<text x="607.0" y="478.0" font-family="Liberation Sans" font-size="18" fill="#000" text-anchor="middle" >O</text>
<circle cx="607.2" cy="491.0" r="3.8" fill="url(#hh)" stroke="#A08080" stroke-width="0.5"/>
<text x="607.0" y="514.0" font-family="Liberation Sans" font-size="18" fill="#000" text-anchor="middle" >H</text>
<rect x="722" y="295" width="263.29999999999995" height="210.60000000000002" fill="none" stroke="#666" stroke-width="1.1"/>
<line x1="717.6" y1="328.7" x2="722.0" y2="328.7" stroke="#666" stroke-width="1.1" />
<text x="713.4" y="332.9" font-family="Liberation Sans" font-size="16" fill="#000" text-anchor="end" >1.0</text>
<line x1="717.6" y1="371.0" x2="722.0" y2="371.0" stroke="#666" stroke-width="1.1" />
<text x="713.4" y="375.2" font-family="Liberation Sans" font-size="16" fill="#000" text-anchor="end" >0.5</text>
<line x1="717.6" y1="413.3" x2="722.0" y2="413.3" stroke="#666" stroke-width="1.1" />
<text x="713.4" y="417.5" font-family="Liberation Sans" font-size="16" fill="#000" text-anchor="end" >0.0</text>
<line x1="717.6" y1="455.6" x2="722.0" y2="455.6" stroke="#666" stroke-width="1.1" />
<text x="713.4" y="459.8" font-family="Liberation Sans" font-size="16" fill="#000" text-anchor="end" >-0.5</text>
<line x1="717.6" y1="497.9" x2="722.0" y2="497.9" stroke="#666" stroke-width="1.1" />
<text x="713.4" y="502.1" font-family="Liberation Sans" font-size="16" fill="#000" text-anchor="end" >-1.0</text>
<line x1="720.0" y1="307.6" x2="722.0" y2="307.6" stroke="#666" stroke-width="1" />
<line x1="720.0" y1="349.9" x2="722.0" y2="349.9" stroke="#666" stroke-width="1" />
<line x1="720.0" y1="392.2" x2="722.0" y2="392.2" stroke="#666" stroke-width="1" />
<line x1="720.0" y1="434.4" x2="722.0" y2="434.4" stroke="#666" stroke-width="1" />
<line x1="720.0" y1="476.8" x2="722.0" y2="476.8" stroke="#666" stroke-width="1" />
<text x="680.2" y="471" font-family="Liberation Sans" font-size="16" transform="rotate(-90 680.2 471)">Free energy (eV)</text>
<text x="853.0" y="527.5" font-family="Liberation Sans" font-size="16" fill="#000" text-anchor="middle" >Reaction coordinates</text>
<line x1="745.0" y1="311.7" x2="772.0" y2="311.7" stroke="#333" stroke-width="1.3" />
<text x="777.4" y="316.2" font-family="Liberation Sans" font-size="12.5" fill="#000" text-anchor="start" >Cu</text>
<line x1="745.0" y1="327.6" x2="772.0" y2="327.6" stroke="#E03040" stroke-width="1.3" />
<text x="777.4" y="332.1" font-family="Liberation Sans" font-size="12.5" fill="#000" text-anchor="start" >CuGa</text>
<line x1="759" y1="413.3" x2="770" y2="444.60200000000003" stroke="#555" stroke-width="0.9" stroke-dasharray="1.2,1.6"/>
<line x1="759" y1="413.3" x2="770" y2="474.212" stroke="#E04050" stroke-width="0.9" stroke-dasharray="1.2,1.6"/>
<line x1="794.1" y1="444.60200000000003" x2="805.3" y2="376.076" stroke="#555" stroke-width="0.9" stroke-dasharray="1.2,1.6"/>
<line x1="794.1" y1="474.212" x2="805.3" y2="455.6" stroke="#E04050" stroke-width="0.9" stroke-dasharray="1.2,1.6"/>
<line x1="830.5" y1="376.076" x2="841" y2="427.682" stroke="#555" stroke-width="0.9" stroke-dasharray="1.2,1.6"/>
<line x1="830.5" y1="455.6" x2="841" y2="476.75" stroke="#E04050" stroke-width="0.9" stroke-dasharray="1.2,1.6"/>
<line x1="865.6" y1="427.682" x2="876.7" y2="371.846" stroke="#555" stroke-width="0.9" stroke-dasharray="1.2,1.6"/>
<line x1="865.6" y1="476.75" x2="876.7" y2="450.524" stroke="#E04050" stroke-width="0.9" stroke-dasharray="1.2,1.6"/>
<line x1="902" y1="371.846" x2="912.4" y2="305.858" stroke="#555" stroke-width="0.9" stroke-dasharray="1.2,1.6"/>
<line x1="902" y1="450.524" x2="912.4" y2="398.072" stroke="#E04050" stroke-width="0.9" stroke-dasharray="1.2,1.6"/>
<line x1="937.6" y1="305.858" x2="948.8" y2="322.778" stroke="#555" stroke-width="0.9" stroke-dasharray="1.2,1.6"/>
<line x1="937.6" y1="398.072" x2="948.8" y2="415.838" stroke="#E04050" stroke-width="0.9" stroke-dasharray="1.2,1.6"/>
<line x1="734.3" y1="413.3" x2="759.0" y2="413.3" stroke="#404040" stroke-width="2.0" />
<line x1="734.3" y1="413.3" x2="759.0" y2="413.3" stroke="#E04050" stroke-width="2.0" />
<line x1="770.0" y1="444.6" x2="794.1" y2="444.6" stroke="#404040" stroke-width="2.0" />
<line x1="770.0" y1="474.2" x2="794.1" y2="474.2" stroke="#E04050" stroke-width="2.0" />
<line x1="805.3" y1="376.1" x2="830.5" y2="376.1" stroke="#404040" stroke-width="2.0" />
<line x1="805.3" y1="455.6" x2="830.5" y2="455.6" stroke="#E04050" stroke-width="2.0" />
<line x1="841.0" y1="427.7" x2="865.6" y2="427.7" stroke="#404040" stroke-width="2.0" />
<line x1="841.0" y1="476.8" x2="865.6" y2="476.8" stroke="#E04050" stroke-width="2.0" />
<line x1="876.7" y1="371.8" x2="902.0" y2="371.8" stroke="#404040" stroke-width="2.0" />
<line x1="876.7" y1="450.5" x2="902.0" y2="450.5" stroke="#E04050" stroke-width="2.0" />
<line x1="912.4" y1="305.9" x2="937.6" y2="305.9" stroke="#404040" stroke-width="2.0" />
<line x1="912.4" y1="398.1" x2="937.6" y2="398.1" stroke="#E04050" stroke-width="2.0" />
<line x1="948.8" y1="322.8" x2="973.5" y2="322.8" stroke="#404040" stroke-width="2.0" />
<line x1="948.8" y1="415.8" x2="973.5" y2="415.8" stroke="#E04050" stroke-width="2.0" />
<line x1="734.3" y1="413.3" x2="759.0" y2="413.3" stroke="#6A3030" stroke-width="2.4" />
<text x="731.5" y="402.4" font-family="Liberation Sans" font-size="15" fill="#000" text-anchor="start" >CO<tspan font-size="10" dy="5">2</tspan></text>
<text x="795.4" y="452.6" font-family="Liberation Sans" font-size="15" fill="#000" text-anchor="start" >*COOH</text>
<text x="770.5" y="495.0" font-family="Liberation Sans" font-size="15" fill="#000" text-anchor="start" >*CO<tspan font-size="10" dy="5">2</tspan></text>
<text x="840.5" y="495.0" font-family="Liberation Sans" font-size="15" fill="#000" text-anchor="start" >*CO</text>
<text x="876.0" y="469.8" font-family="Liberation Sans" font-size="15" fill="#000" text-anchor="start" >2*CO</text>
<text x="915.0" y="392.3" font-family="Liberation Sans" font-size="15" fill="#000" text-anchor="start" >TS</text>
<text x="934.2" y="433.9" font-family="Liberation Sans" font-size="15" fill="#000" text-anchor="start" >*OCCO</text>
<g opacity="1.0"><g fill="none" stroke="#8a8a8a" stroke-width="4.199999999999999" stroke-opacity="0.6" stroke-linecap="square"><polyline points="741.9,485.4 737.1,493.3"/><polyline points="738.3,489.7 748.9,489.7"/><polyline points="734.9,498.1 749.5,498.1"/><polyline points="743.3,489.7 743.3,498.1 736.3,508.4"/><polyline points="743.9,499.8 749.5,507.0"/><polyline points="752.3,489.7 762.3,489.7 762.3,506.5 752.3,506.5 752.3,489.7"/></g><g fill="none" stroke="#fff" stroke-width="2.8" stroke-linecap="square"><polyline points="741.0,484.5 736.2,492.4"/><polyline points="737.4,488.8 748.0,488.8"/><polyline points="734.0,497.2 748.6,497.2"/><polyline points="742.4,488.8 742.4,497.2 735.4,507.5"/><polyline points="743.0,498.9 748.6,506.1"/><polyline points="751.4,488.8 761.4,488.8 761.4,505.6 751.4,505.6 751.4,488.8"/></g></g>
<g opacity="1.0"><g fill="none" stroke="#8a8a8a" stroke-width="4.199999999999999" stroke-opacity="0.6" stroke-linecap="square"><polyline points="792.2,485.4 770.6,489.2"/><polyline points="773.3,492.6 776.5,496.9"/><polyline points="789.5,492.1 786.3,496.9"/><polyline points="767.9,499.8 794.9,499.8"/><polyline points="781.4,489.7 781.4,508.4 776.5,507.0"/></g><g fill="none" stroke="#fff" stroke-width="2.8" stroke-linecap="square"><polyline points="791.3,484.5 769.7,488.3"/><polyline points="772.4,491.7 775.6,496.0"/><polyline points="788.6,491.2 785.4,496.0"/><polyline points="767.0,498.9 794.0,498.9"/><polyline points="780.5,488.8 780.5,507.5 775.6,506.1"/></g></g>
<g opacity="1.0"><g fill="none" stroke="#8a8a8a" stroke-width="4.199999999999999" stroke-opacity="0.6" stroke-linecap="square"><polyline points="825.4,492.1 824.1,501.7 828.2,501.2 830.5,496.9 829.2,489.7 822.8,485.4 816.4,486.1 811.2,492.1 811.0,500.5 816.4,507.7 822.8,508.4 828.2,505.3"/><polyline points="824.5,494.5 821.7,492.1 818.1,493.3 816.4,498.1 818.5,501.7 822.4,500.7 824.5,496.9"/></g><g fill="none" stroke="#fff" stroke-width="2.8" stroke-linecap="square"><polyline points="824.5,491.2 823.2,500.8 827.3,500.3 829.6,496.0 828.4,488.8 821.9,484.5 815.5,485.2 810.3,491.2 810.1,499.6 815.5,506.8 821.9,507.5 827.3,504.4"/><polyline points="823.6,493.6 820.8,491.2 817.2,492.4 815.5,497.2 817.6,500.8 821.5,499.8 823.6,496.0"/></g></g>
<g opacity="1.0"><g fill="none" stroke="#8a8a8a" stroke-width="4.199999999999999" stroke-opacity="0.6" stroke-linecap="square"><polyline points="845.9,485.4 837.6,488.5"/><polyline points="836.5,493.3 847.3,493.3"/><polyline points="842.1,486.8 842.1,508.9"/><polyline points="842.1,494.5 836.5,504.1"/><polyline points="842.8,495.7 846.6,499.8"/><polyline points="849.9,488.5 852.2,491.6"/><polyline points="849.5,494.5 851.7,497.4"/><polyline points="848.1,502.2 858.9,499.8"/><polyline points="855.5,484.9 855.5,508.9"/></g><g fill="none" stroke="#fff" stroke-width="2.8" stroke-linecap="square"><polyline points="845.0,484.5 836.7,487.6"/><polyline points="835.6,492.4 846.4,492.4"/><polyline points="841.2,485.9 841.2,508.0"/><polyline points="841.2,493.6 835.6,503.2"/><polyline points="841.9,494.8 845.7,498.9"/><polyline points="849.0,487.6 851.3,490.7"/><polyline points="848.6,493.6 850.8,496.5"/><polyline points="847.2,501.3 858.0,498.9"/><polyline points="854.6,484.0 854.6,508.0"/></g></g>
<g opacity="1.0"><g fill="none" stroke="#8a8a8a" stroke-width="4.199999999999999" stroke-opacity="0.6" stroke-linecap="square"><polyline points="870.8,484.9 872.7,488.5"/><polyline points="877.6,484.9 878.6,488.5"/><polyline points="885.4,484.9 883.5,488.5"/><polyline points="867.1,493.3 867.1,490.2 889.1,490.2 889.1,493.3"/><polyline points="872.0,495.0 883.0,495.0 878.1,498.8"/><polyline points="865.9,501.2 890.3,501.2"/><polyline points="878.1,498.8 878.1,508.9 874.4,507.7"/></g><g fill="none" stroke="#fff" stroke-width="2.8" stroke-linecap="square"><polyline points="869.9,484.0 871.8,487.6"/><polyline points="876.7,484.0 877.7,487.6"/><polyline points="884.5,484.0 882.6,487.6"/><polyline points="866.2,492.4 866.2,489.3 888.2,489.3 888.2,492.4"/><polyline points="871.1,494.1 882.1,494.1 877.2,497.9"/><polyline points="865.0,500.3 889.4,500.3"/><polyline points="877.2,497.9 877.2,508.0 873.5,506.8"/></g></g>
<g opacity="1.0"><g fill="none" stroke="#8a8a8a" stroke-width="4.199999999999999" stroke-opacity="0.6" stroke-linecap="square"><polyline points="894.4,492.1 905.4,492.1"/><polyline points="899.8,484.9 899.8,508.9"/><polyline points="899.8,493.3 894.4,502.9"/><polyline points="900.5,494.5 904.6,499.3"/><polyline points="906.6,493.3 918.8,493.3"/><polyline points="913.9,484.9 913.9,508.9 910.3,507.7"/><polyline points="913.4,495.0 906.6,504.1"/></g><g fill="none" stroke="#fff" stroke-width="2.8" stroke-linecap="square"><polyline points="893.5,491.2 904.5,491.2"/><polyline points="898.9,484.0 898.9,508.0"/><polyline points="898.9,492.4 893.5,502.0"/><polyline points="899.6,493.6 903.7,498.4"/><polyline points="905.7,492.4 917.9,492.4"/><polyline points="913.0,484.0 913.0,508.0 909.4,506.8"/><polyline points="912.5,494.1 905.7,503.2"/></g></g>
<g opacity="1.0"><g fill="none" stroke="#8a8a8a" stroke-width="4.199999999999999" stroke-opacity="0.6" stroke-linecap="square"><polyline points="924.1,486.8 925.8,490.9"/><polyline points="932.6,486.8 930.7,490.9"/><polyline points="922.9,494.0 933.8,494.0"/><polyline points="928.2,484.9 928.2,508.9"/><polyline points="928.2,495.0 922.9,503.6"/><polyline points="928.7,495.7 933.8,500.5"/><polyline points="937.0,487.8 939.4,490.9"/><polyline points="936.5,493.3 938.9,496.4"/><polyline points="935.0,501.7 947.2,499.3"/><polyline points="942.8,484.9 942.8,508.9"/></g><g fill="none" stroke="#fff" stroke-width="2.8" stroke-linecap="square"><polyline points="923.2,485.9 924.9,490.0"/><polyline points="931.7,485.9 929.8,490.0"/><polyline points="922.0,493.1 932.9,493.1"/><polyline points="927.3,484.0 927.3,508.0"/><polyline points="927.3,494.1 922.0,502.7"/><polyline points="927.8,494.8 932.9,499.6"/><polyline points="936.1,486.9 938.5,490.0"/><polyline points="935.6,492.4 938.0,495.5"/><polyline points="934.1,500.8 946.3,498.4"/><polyline points="941.9,484.0 941.9,508.0"/></g></g>
<g opacity="1.0"><g fill="none" stroke="#8a8a8a" stroke-width="4.199999999999999" stroke-opacity="0.6" stroke-linecap="square"><polyline points="957.1,484.9 957.1,487.8"/><polyline points="951.3,489.7 963.2,489.7"/><polyline points="953.9,493.3 955.3,501.7"/><polyline points="960.5,493.3 959.2,501.7"/><polyline points="951.3,504.1 963.2,504.1"/><polyline points="970.3,484.9 970.3,496.9"/><polyline points="970.3,490.9 977.7,490.9"/><polyline points="965.0,496.9 977.2,496.9 977.2,507.7 965.0,507.7 965.0,496.9"/></g><g fill="none" stroke="#fff" stroke-width="2.8" stroke-linecap="square"><polyline points="956.2,484.0 956.2,486.9"/><polyline points="950.4,488.8 962.3,488.8"/><polyline points="953.0,492.4 954.4,500.8"/><polyline points="959.6,492.4 958.3,500.8"/><polyline points="950.4,503.2 962.3,503.2"/><polyline points="969.4,484.0 969.4,496.0"/><polyline points="969.4,490.0 976.8,490.0"/><polyline points="964.1,496.0 976.3,496.0 976.3,506.8 964.1,506.8 964.1,496.0"/></g></g>
<g opacity="0.75"><g fill="none" stroke="#8a8a8a" stroke-width="3.6999999999999997" stroke-opacity="0.6" stroke-linecap="square"><polyline points="842.1,509.2 833.2,511.3 828.8,517.8 836.2,525.3 848.0,525.3 855.4,519.9 851.0,513.5 842.1,509.2"/><polyline points="843.6,514.6 837.7,515.6 836.2,519.9 842.1,522.1 847.4,519.5 845.7,515.6 843.6,514.6"/></g><g fill="none" stroke="#fff" stroke-width="2.3" stroke-linecap="square"><polyline points="841.2,508.3 832.3,510.4 827.9,516.9 835.3,524.4 847.1,524.4 854.5,519.0 850.1,512.6 841.2,508.3"/><polyline points="842.7,513.7 836.8,514.8 835.3,519.0 841.2,521.2 846.5,518.6 844.8,514.8 842.7,513.7"/></g></g>
<g opacity="0.75"><g fill="none" stroke="#8a8a8a" stroke-width="3.6999999999999997" stroke-opacity="0.6" stroke-linecap="square"><polyline points="879.3,505.3 871.0,508.1"/><polyline points="869.9,512.4 880.7,512.4"/><polyline points="875.5,506.6 875.5,526.4"/><polyline points="875.5,513.5 869.9,522.1"/><polyline points="876.2,514.6 880.0,518.2"/><polyline points="883.3,508.1 885.6,510.9"/><polyline points="882.9,513.5 885.1,516.1"/><polyline points="881.5,520.4 892.3,518.2"/><polyline points="888.9,504.9 888.9,526.4"/></g><g fill="none" stroke="#fff" stroke-width="2.3" stroke-linecap="square"><polyline points="878.4,504.4 870.1,507.2"/><polyline points="869.0,511.5 879.8,511.5"/><polyline points="874.6,505.7 874.6,525.5"/><polyline points="874.6,512.6 869.0,521.2"/><polyline points="875.3,513.7 879.1,517.3"/><polyline points="882.4,507.2 884.7,510.0"/><polyline points="882.0,512.6 884.2,515.2"/><polyline points="880.6,519.5 891.4,517.3"/><polyline points="888.0,504.0 888.0,525.5"/></g></g>
<g opacity="0.75"><g fill="none" stroke="#8a8a8a" stroke-width="3.6999999999999997" stroke-opacity="0.6" stroke-linecap="square"><polyline points="900.3,504.9 901.9,508.1"/><polyline points="905.8,504.9 906.5,508.1"/><polyline points="912.0,504.9 910.4,508.1"/><polyline points="897.4,512.4 897.4,509.6 914.9,509.6 914.9,512.4"/><polyline points="901.3,513.9 910.0,513.9 906.1,517.4"/><polyline points="896.4,519.5 915.9,519.5"/><polyline points="906.1,517.4 906.1,526.4 903.2,525.3"/></g><g fill="none" stroke="#fff" stroke-width="2.3" stroke-linecap="square"><polyline points="899.4,504.0 901.0,507.2"/><polyline points="904.9,504.0 905.6,507.2"/><polyline points="911.1,504.0 909.5,507.2"/><polyline points="896.5,511.5 896.5,508.7 914.0,508.7 914.0,511.5"/><polyline points="900.4,513.0 909.1,513.0 905.2,516.5"/><polyline points="895.5,518.6 915.0,518.6"/><polyline points="905.2,516.5 905.2,525.5 902.3,524.4"/></g></g>
<g opacity="0.75"><g fill="none" stroke="#8a8a8a" stroke-width="3.6999999999999997" stroke-opacity="0.6" stroke-linecap="square"><polyline points="920.9,511.3 929.9,511.3"/><polyline points="925.3,504.9 925.3,526.4"/><polyline points="925.3,512.4 920.9,521.0"/><polyline points="925.9,513.5 929.3,517.8"/><polyline points="930.9,512.4 940.9,512.4"/><polyline points="936.9,504.9 936.9,526.4 933.9,525.3"/><polyline points="936.5,513.9 930.9,522.1"/></g><g fill="none" stroke="#fff" stroke-width="2.3" stroke-linecap="square"><polyline points="920.0,510.4 929.0,510.4"/><polyline points="924.4,504.0 924.4,525.5"/><polyline points="924.4,511.5 920.0,520.1"/><polyline points="925.0,512.6 928.4,516.9"/><polyline points="930.0,511.5 940.0,511.5"/><polyline points="936.0,504.0 936.0,525.5 933.0,524.4"/><polyline points="935.6,513.0 930.0,521.2"/></g></g>
<g opacity="0.75"><g fill="none" stroke="#8a8a8a" stroke-width="3.6999999999999997" stroke-opacity="0.6" stroke-linecap="square"><polyline points="943.9,506.6 945.4,510.3"/><polyline points="951.1,506.6 949.5,510.3"/><polyline points="942.9,513.1 952.2,513.1"/><polyline points="947.4,504.9 947.4,526.4"/><polyline points="947.4,513.9 942.9,521.7"/><polyline points="947.8,514.6 952.2,518.9"/><polyline points="954.8,507.5 956.9,510.3"/><polyline points="954.4,512.4 956.5,515.2"/><polyline points="953.2,519.9 963.5,517.8"/><polyline points="959.8,504.9 959.8,526.4"/></g><g fill="none" stroke="#fff" stroke-width="2.3" stroke-linecap="square"><polyline points="943.0,505.7 944.5,509.4"/><polyline points="950.2,505.7 948.6,509.4"/><polyline points="942.0,512.2 951.3,512.2"/><polyline points="946.5,504.0 946.5,525.5"/><polyline points="946.5,513.0 942.0,520.8"/><polyline points="946.9,513.7 951.3,518.0"/><polyline points="953.9,506.6 956.0,509.4"/><polyline points="953.5,511.5 955.6,514.3"/><polyline points="952.3,519.0 962.6,516.9"/><polyline points="958.9,504.0 958.9,525.5"/></g></g>
<g opacity="0.75"><g fill="none" stroke="#8a8a8a" stroke-width="3.6999999999999997" stroke-opacity="0.6" stroke-linecap="square"><polyline points="974.9,504.9 974.9,507.5"/><polyline points="969.6,509.2 980.5,509.2"/><polyline points="972.0,512.4 973.2,519.9"/><polyline points="978.1,512.4 976.9,519.9"/><polyline points="969.6,522.1 980.5,522.1"/><polyline points="987.1,504.9 987.1,515.6"/><polyline points="987.1,510.3 993.9,510.3"/><polyline points="982.2,515.6 993.4,515.6 993.4,525.3 982.2,525.3 982.2,515.6"/></g><g fill="none" stroke="#fff" stroke-width="2.3" stroke-linecap="square"><polyline points="974.0,504.0 974.0,506.6"/><polyline points="968.7,508.3 979.6,508.3"/><polyline points="971.1,511.5 972.3,519.0"/><polyline points="977.2,511.5 976.0,519.0"/><polyline points="968.7,521.2 979.6,521.2"/><polyline points="986.2,504.0 986.2,514.8"/><polyline points="986.2,509.4 993.0,509.4"/><polyline points="981.3,514.8 992.5,514.8 992.5,524.4 981.3,524.4 981.3,514.8"/></g></g>
</svg></body></html>
